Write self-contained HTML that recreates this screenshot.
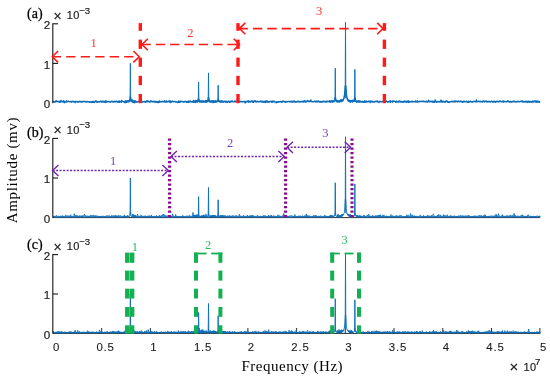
<!DOCTYPE html>
<html><head><meta charset="utf-8"><title>Spectrum</title>
<style>
html,body{margin:0;padding:0;background:#fff;}
svg{display:block}
.t{font-family:"Liberation Sans",Arial,sans-serif;font-size:11px;fill:#1c1c1c;stroke:#1c1c1c;stroke-width:0.18px}
.s{font-family:"Liberation Serif","Times New Roman",serif;fill:#000}
.k{stroke:#000;stroke-width:0.25px}
</style></head><body>
<svg width="550" height="381" viewBox="0 0 550 381">
<rect width="550" height="381" fill="#fff"/>
<polyline points="53.00,102.09 53.44,101.52 53.89,102.13 54.33,101.68 54.77,102.09 55.21,102.11 55.66,101.11 56.10,101.30 56.54,100.74 56.99,101.76 57.43,101.62 57.87,101.60 58.31,101.56 58.76,101.41 59.20,102.29 59.64,101.40 60.09,102.18 60.53,101.65 60.97,100.48 61.42,101.67 61.86,101.76 62.30,101.42 62.74,101.62 63.19,102.01 63.63,100.65 64.07,101.83 64.52,102.63 64.96,101.47 65.40,102.08 65.84,102.10 66.29,102.11 66.73,100.85 67.17,101.65 67.62,101.49 68.06,101.45 68.50,101.24 68.94,101.67 69.39,101.84 69.83,101.87 70.27,101.54 70.72,101.55 71.16,101.94 71.60,102.20 72.05,101.22 72.49,101.41 72.93,101.67 73.37,101.80 73.82,101.39 74.26,101.88 74.70,101.79 75.15,102.52 75.59,101.39 76.03,101.50 76.47,101.82 76.92,101.54 77.36,101.90 77.80,101.43 78.25,101.74 78.69,101.95 79.13,101.88 79.57,101.40 80.02,101.71 80.46,101.44 80.90,102.08 81.35,101.68 81.79,101.79 82.23,101.36 82.67,102.05 83.12,101.63 83.56,101.59 84.00,101.45 84.45,101.57 84.89,101.42 85.33,101.40 85.78,101.95 86.22,102.11 86.66,101.59 87.10,101.64 87.55,101.58 87.99,101.67 88.43,101.69 88.88,101.96 89.32,102.21 89.76,101.82 90.20,101.83 90.65,102.26 91.09,101.96 91.53,102.36 91.98,101.47 92.42,102.34 92.86,102.00 93.30,101.34 93.75,102.38 94.19,102.52 94.63,102.10 95.08,101.28 95.52,101.57 95.96,100.83 96.41,101.91 96.85,101.62 97.29,102.26 97.73,101.70 98.18,101.76 98.62,101.87 99.06,101.86 99.51,101.98 99.95,101.77 100.39,101.86 100.83,101.02 101.28,102.03 101.72,101.73 102.16,101.48 102.61,101.33 103.05,102.11 103.49,101.46 103.93,101.31 104.38,102.08 104.82,101.40 105.26,101.12 105.71,102.51 106.15,100.94 106.59,101.51 107.03,101.93 107.48,101.57 107.92,101.73 108.36,101.63 108.81,101.58 109.25,101.57 109.69,102.01 110.14,102.03 110.58,101.75 111.02,101.87 111.46,101.25 111.91,101.62 112.35,101.70 112.79,101.33 113.24,102.10 113.68,102.05 114.12,101.52 114.56,101.73 115.01,101.38 115.45,101.36 115.89,101.98 116.34,101.33 116.78,101.28 117.22,101.79 117.66,101.76 118.11,102.30 118.55,101.47 118.99,100.90 119.44,102.26 119.88,101.79 120.32,101.44 120.77,101.91 121.21,102.22 121.65,100.55 122.09,101.05 122.54,101.39 122.98,101.59 123.42,101.83 123.87,101.75 124.31,102.31 124.52,102.50 124.67,101.59 124.75,101.92 124.81,101.68 124.96,102.31 125.11,101.73 125.19,102.13 125.25,101.16 125.40,101.07 125.54,102.38 125.64,101.49 125.69,101.20 125.84,100.69 125.98,101.45 126.08,101.47 126.13,102.05 126.27,101.20 126.42,101.43 126.52,101.35 126.57,101.73 126.71,102.20 126.86,101.33 126.97,101.69 127.01,101.38 127.15,100.85 127.30,101.13 127.41,101.69 127.44,101.86 127.59,101.10 127.74,101.20 127.85,101.54 127.88,101.30 128.03,101.79 128.17,101.25 128.29,101.35 128.32,101.00 128.47,101.17 128.61,101.82 128.74,101.43 128.76,102.04 128.91,101.66 129.05,100.53 129.18,101.05 129.20,101.30 129.34,101.06 129.49,100.71 129.62,100.58 129.64,100.78 129.78,99.95 129.93,99.53 130.07,98.50 130.08,98.65 130.22,98.03 130.37,96.91 130.51,97.38 130.51,97.43 130.66,98.79 130.81,99.64 130.95,99.61 130.95,101.11 131.10,99.79 131.24,100.54 131.39,101.24 131.39,100.70 131.54,101.22 131.68,101.30 131.83,101.17 131.84,100.99 131.98,101.32 132.12,99.81 132.27,101.28 132.28,101.99 132.41,101.88 132.56,101.24 132.71,101.43 132.72,101.79 132.85,101.42 133.00,102.20 133.14,101.16 133.17,101.94 133.29,102.04 133.44,101.26 133.58,101.64 133.61,101.58 133.73,101.77 133.88,101.78 134.02,101.87 134.05,101.15 134.17,102.77 134.31,100.64 134.46,100.56 134.50,102.61 134.61,101.63 134.75,101.25 134.90,101.73 134.94,101.50 135.04,102.02 135.19,101.75 135.34,101.12 135.38,101.64 135.48,102.12 135.63,101.97 135.78,101.41 135.82,101.29 135.92,101.72 136.07,101.71 136.27,102.11 136.71,101.72 137.15,101.89 137.60,102.02 138.04,101.66 138.48,101.58 138.92,101.31 139.37,101.15 139.81,101.65 140.25,101.76 140.70,100.95 141.14,101.30 141.58,101.38 142.02,101.69 142.47,101.72 142.91,102.04 143.35,101.79 143.80,101.76 144.24,101.62 144.68,101.54 145.13,102.15 145.57,101.46 146.01,101.97 146.45,101.83 146.90,100.77 147.34,101.66 147.78,101.08 148.23,101.16 148.67,101.83 149.11,101.43 149.55,102.07 150.00,101.93 150.44,101.64 150.88,100.66 151.33,101.53 151.77,101.62 152.21,101.77 152.65,101.77 153.10,101.19 153.54,101.37 153.98,101.94 154.43,101.36 154.87,101.67 155.31,102.33 155.75,101.47 156.20,102.12 156.64,101.90 157.08,101.53 157.53,102.26 157.97,102.53 158.41,101.67 158.86,102.45 159.30,101.06 159.74,101.24 160.18,102.03 160.63,101.81 161.07,101.63 161.51,101.79 161.96,101.39 162.40,101.50 162.84,101.69 163.28,101.46 163.73,101.77 164.17,101.52 164.61,100.91 165.06,102.07 165.50,101.55 165.94,101.94 166.38,100.96 166.83,101.95 167.27,101.88 167.71,101.40 168.16,101.50 168.60,101.22 169.04,101.42 169.49,102.04 169.93,100.62 170.37,101.85 170.81,102.50 171.26,102.03 171.70,101.24 172.14,101.48 172.59,101.14 173.03,101.37 173.47,101.78 173.91,101.80 174.36,101.64 174.80,101.40 175.24,101.62 175.69,102.01 176.13,101.85 176.57,102.02 177.01,101.86 177.46,102.42 177.90,102.00 178.34,102.26 178.79,100.97 179.23,102.23 179.67,101.81 180.11,102.27 180.56,101.30 181.00,101.18 181.44,101.53 181.89,101.44 182.33,101.53 182.77,101.67 183.22,102.02 183.66,102.14 184.10,102.11 184.54,101.53 184.99,101.47 185.43,101.51 185.87,101.75 186.32,102.12 186.76,101.69 187.20,101.43 187.64,102.28 188.09,101.84 188.53,101.05 188.97,102.16 189.42,101.25 189.86,101.76 190.30,101.04 190.74,101.85 191.19,101.93 191.63,101.67 192.07,101.64 192.52,101.59 192.73,101.48 192.88,102.18 192.96,101.46 193.02,101.38 193.17,102.14 193.31,101.69 193.40,101.83 193.46,100.38 193.61,101.26 193.75,102.18 193.85,101.67 193.90,101.79 194.04,101.18 194.19,101.76 194.29,101.54 194.34,101.99 194.48,101.51 194.63,101.84 194.73,101.25 194.78,101.06 194.92,101.35 195.07,101.48 195.17,101.96 195.21,101.20 195.36,102.52 195.51,101.39 195.62,101.26 195.65,101.58 195.80,100.39 195.94,101.75 196.06,101.46 196.09,101.11 196.24,101.87 196.38,101.65 196.50,101.70 196.53,101.80 196.68,101.96 196.82,100.78 196.95,101.84 196.97,100.93 197.11,101.04 197.26,101.14 197.39,101.96 197.41,101.00 197.55,101.30 197.70,101.03 197.83,100.38 197.84,100.74 197.99,101.24 198.14,101.02 198.27,99.61 198.28,99.71 198.43,98.81 198.58,99.20 198.72,99.10 198.72,99.40 198.87,99.76 199.01,100.32 199.16,100.65 199.16,101.31 199.31,100.72 199.45,101.49 199.60,100.97 199.60,100.89 199.74,101.54 199.89,102.10 200.04,101.64 200.05,101.65 200.18,101.99 200.33,101.78 200.48,101.80 200.49,101.24 200.62,101.05 200.77,100.98 200.91,101.83 200.93,101.68 201.06,101.38 201.21,102.03 201.35,101.77 201.37,100.86 201.50,101.49 201.64,101.80 201.79,101.38 201.82,101.56 201.94,101.77 202.08,101.86 202.23,101.96 202.26,100.97 202.38,101.80 202.52,101.57 202.67,101.41 202.67,101.23 202.70,101.86 202.81,101.17 202.81,101.06 202.96,100.90 202.96,102.04 203.11,101.35 203.11,101.61 203.15,102.03 203.25,101.39 203.25,101.90 203.40,101.25 203.40,101.86 203.54,101.36 203.54,101.79 203.59,101.15 203.69,101.95 203.69,101.77 203.84,101.16 203.84,102.01 203.98,101.47 203.98,101.76 204.03,102.02 204.13,101.82 204.13,101.45 204.28,101.09 204.28,101.72 204.42,101.52 204.47,101.84 204.57,101.47 204.71,101.70 204.86,102.07 204.92,101.80 205.01,101.66 205.15,101.48 205.30,101.86 205.36,101.39 205.44,100.84 205.59,101.43 205.74,100.68 205.80,101.97 205.88,101.79 206.03,100.78 206.18,101.37 206.25,101.82 206.32,100.68 206.47,102.32 206.61,101.23 206.69,100.80 206.76,101.52 206.91,101.75 207.05,101.45 207.13,101.57 207.20,101.49 207.34,101.24 207.49,101.25 207.58,101.34 207.64,101.37 207.78,101.39 207.93,100.18 208.02,100.58 208.08,99.58 208.22,99.57 208.37,97.62 208.46,97.55 208.51,98.14 208.66,98.50 208.81,99.34 208.90,99.20 208.95,100.04 209.10,100.80 209.25,100.55 209.35,100.30 209.39,101.63 209.54,101.05 209.68,101.51 209.79,101.34 209.83,101.69 209.98,101.00 210.12,102.13 210.23,101.49 210.27,101.26 210.41,101.56 210.56,101.72 210.68,101.69 210.71,101.39 210.85,102.16 211.00,101.47 211.12,101.10 211.15,102.03 211.29,101.90 211.44,100.71 211.56,101.40 211.58,101.85 211.73,101.49 211.88,101.21 212.00,101.85 212.02,101.58 212.17,101.40 212.31,101.80 212.31,101.15 212.45,101.74 212.46,101.69 212.46,101.61 212.61,101.40 212.61,101.58 212.75,101.73 212.75,101.41 212.89,100.69 212.90,101.54 212.90,102.65 213.05,101.62 213.05,101.71 213.19,101.39 213.19,101.34 213.33,101.53 213.34,101.57 213.34,101.64 213.48,101.87 213.48,101.59 213.63,101.22 213.63,102.14 213.78,100.76 213.78,102.04 213.78,101.32 213.92,101.86 213.92,102.28 214.07,101.96 214.07,101.53 214.21,101.57 214.21,101.86 214.22,101.82 214.36,101.68 214.51,101.91 214.65,101.55 214.66,101.92 214.80,102.25 214.95,101.12 215.09,101.36 215.10,101.38 215.24,101.58 215.38,101.10 215.53,101.86 215.55,101.12 215.68,100.90 215.82,101.20 215.97,102.34 215.99,100.94 216.11,101.20 216.26,101.67 216.41,101.56 216.43,101.34 216.55,101.47 216.70,101.64 216.85,101.13 216.88,101.54 216.99,101.70 217.14,101.23 217.28,101.10 217.32,101.56 217.43,100.97 217.58,101.07 217.72,100.38 217.76,100.10 217.87,100.20 218.01,99.47 218.16,99.55 218.21,99.42 218.31,99.24 218.45,100.10 218.60,100.89 218.65,101.13 218.75,100.83 218.89,101.37 219.04,100.93 219.09,101.66 219.18,101.14 219.33,101.42 219.48,101.32 219.53,101.21 219.62,101.12 219.77,101.55 219.91,101.62 219.98,101.22 220.06,101.42 220.21,101.92 220.35,101.79 220.42,101.26 220.50,101.54 220.65,101.64 220.79,101.07 220.86,102.27 220.94,102.19 221.08,101.04 221.23,101.83 221.31,101.93 221.38,101.42 221.52,101.37 221.67,101.86 221.75,101.35 221.81,101.31 221.96,101.43 222.11,101.66 222.19,100.88 222.25,101.87 222.40,101.60 222.55,101.22 222.63,101.96 222.69,101.96 222.84,101.80 222.98,101.35 223.08,101.75 223.13,102.17 223.28,101.54 223.42,101.83 223.52,101.95 223.57,101.77 223.71,101.90 223.86,101.70 223.96,101.45 224.41,101.26 224.85,101.49 225.29,101.57 225.73,102.23 226.18,101.46 226.62,101.17 227.06,102.18 227.51,102.28 227.95,101.68 228.39,101.65 228.83,101.08 229.28,101.61 229.72,102.33 230.16,102.14 230.61,101.38 231.05,101.59 231.49,101.82 231.94,100.69 232.38,101.42 232.82,101.46 233.26,101.69 233.71,101.89 234.15,101.91 234.59,101.11 235.04,101.48 235.48,101.78 235.92,101.09 236.36,101.69 236.81,101.58 237.25,101.87 237.69,101.43 238.14,101.73 238.58,101.30 239.02,101.30 239.46,101.69 239.91,101.59 240.35,101.84 240.79,101.40 241.24,101.76 241.68,101.68 242.12,101.59 242.57,101.85 243.01,101.85 243.45,101.84 243.89,101.44 244.34,101.41 244.78,101.84 245.22,102.87 245.67,101.52 246.11,102.02 246.55,101.61 246.99,101.23 247.44,101.49 247.88,101.79 248.32,100.82 248.77,102.28 249.21,101.42 249.65,101.44 250.09,101.62 250.54,102.03 250.98,101.19 251.42,101.41 251.87,100.80 252.31,101.42 252.75,102.24 253.19,101.43 253.64,102.28 254.08,100.95 254.52,101.13 254.97,100.74 255.41,100.87 255.85,101.91 256.30,101.43 256.74,101.99 257.18,101.27 257.62,101.39 258.07,101.83 258.51,101.66 258.95,101.90 259.40,101.75 259.84,101.85 260.28,101.08 260.72,101.35 261.17,101.84 261.61,101.25 262.05,101.42 262.50,101.87 262.94,101.27 263.38,101.68 263.82,102.12 264.27,101.35 264.71,102.03 265.15,102.43 265.60,102.32 266.04,100.81 266.48,102.02 266.93,101.30 267.37,101.12 267.81,102.11 268.25,101.81 268.70,101.72 269.14,102.16 269.58,101.50 270.03,101.59 270.47,101.17 270.91,101.16 271.35,101.55 271.80,102.33 272.24,102.11 272.68,101.07 273.13,101.68 273.57,101.29 274.01,101.67 274.45,101.24 274.90,101.68 275.34,102.15 275.78,102.33 276.23,102.78 276.67,101.73 277.11,101.72 277.55,101.91 278.00,102.35 278.44,101.81 278.88,101.74 279.33,101.76 279.77,101.92 280.21,101.64 280.66,101.59 281.10,102.10 281.54,101.45 281.98,101.37 282.43,102.05 282.87,101.06 283.31,101.50 283.76,101.33 284.20,101.54 284.64,101.73 285.08,102.15 285.53,102.18 285.97,101.30 286.41,101.98 286.86,101.85 287.30,101.86 287.74,101.57 288.18,101.48 288.63,101.53 289.07,101.52 289.51,101.80 289.96,101.47 290.40,101.68 290.84,101.98 291.29,101.34 291.73,101.25 292.17,101.98 292.61,101.44 293.06,101.97 293.50,101.19 293.94,101.81 294.39,100.94 294.83,101.82 295.27,102.00 295.71,101.67 296.16,102.13 296.60,101.90 297.04,101.51 297.49,101.79 297.93,101.12 298.37,101.81 298.81,101.55 299.26,101.93 299.70,101.49 300.14,102.02 300.59,101.89 301.03,101.36 301.47,101.47 301.91,101.81 302.36,101.93 302.80,101.15 303.24,101.57 303.69,101.95 304.13,101.58 304.57,100.69 305.02,101.83 305.46,101.40 305.90,102.10 306.34,101.28 306.79,101.48 307.23,101.43 307.67,100.59 308.12,101.42 308.56,101.36 309.00,101.39 309.44,101.20 309.89,101.66 310.33,100.99 310.77,99.99 311.22,101.37 311.66,101.58 312.10,101.69 312.54,101.81 312.99,101.68 313.43,101.82 313.87,101.65 314.32,101.28 314.76,101.41 315.20,101.63 315.65,101.27 316.09,102.07 316.53,101.50 316.97,101.09 317.42,101.21 317.86,102.00 318.30,101.69 318.75,101.03 319.19,101.72 319.63,101.69 320.07,102.19 320.52,101.46 320.96,101.60 321.40,102.06 321.85,102.17 322.29,101.38 322.73,101.50 323.17,101.82 323.62,101.26 324.06,101.19 324.50,101.77 324.95,101.86 325.39,101.43 325.83,101.87 326.27,101.34 326.72,101.97 327.16,101.45 327.60,101.20 328.05,101.44 328.49,101.57 328.93,101.44 329.38,101.85 329.44,101.57 329.58,101.23 329.73,100.63 329.82,101.26 329.88,101.67 330.02,101.74 330.17,101.12 330.26,102.01 330.31,101.57 330.46,101.35 330.61,101.42 330.70,102.20 330.75,101.25 330.90,101.63 331.05,101.70 331.15,101.71 331.19,101.29 331.34,101.63 331.48,101.65 331.59,101.87 331.63,101.87 331.78,100.72 331.92,101.42 332.03,100.95 332.07,101.51 332.21,100.73 332.36,101.60 332.48,102.06 332.51,101.29 332.65,101.66 332.80,101.41 332.92,101.31 332.95,101.39 333.09,101.62 333.24,101.48 333.36,100.97 333.38,101.54 333.53,101.76 333.68,101.12 333.80,101.02 333.82,101.58 333.97,101.62 334.11,100.78 334.25,101.18 334.26,101.36 334.41,100.88 334.55,100.85 334.69,100.42 334.70,100.10 334.85,100.06 334.99,98.92 335.13,98.21 335.14,97.52 335.28,97.62 335.43,97.39 335.58,98.92 335.58,99.33 335.72,99.53 335.87,100.56 336.01,100.94 336.02,100.92 336.16,101.23 336.31,100.88 336.45,100.86 336.46,100.92 336.60,101.32 336.75,101.67 336.89,100.76 336.90,100.56 337.04,100.79 337.18,100.97 337.33,101.82 337.35,101.45 337.48,102.02 337.62,101.74 337.77,101.94 337.79,100.71 337.91,101.01 338.06,101.82 338.21,100.93 338.23,101.32 338.35,101.38 338.50,101.18 338.65,101.43 338.68,101.08 338.79,100.98 338.94,100.76 339.08,101.90 339.12,101.50 339.23,100.80 339.38,101.62 339.52,101.00 339.56,101.44 339.67,101.63 339.67,101.20 339.81,101.75 339.81,101.30 339.96,101.11 339.96,101.32 340.01,100.57 340.11,100.92 340.11,100.47 340.25,100.50 340.25,100.75 340.40,100.11 340.40,100.68 340.45,101.26 340.55,101.33 340.55,101.21 340.69,101.49 340.69,101.22 340.84,101.24 340.84,101.49 340.89,101.58 340.98,101.07 340.98,100.91 341.13,100.85 341.28,100.14 341.33,101.39 341.42,99.70 341.57,101.60 341.71,101.09 341.78,101.33 341.86,100.48 342.01,100.56 342.15,100.16 342.22,100.16 342.30,100.37 342.45,101.02 342.59,100.30 342.66,101.03 342.74,99.65 342.88,100.29 343.03,100.06 343.11,99.88 343.18,100.21 343.32,99.84 343.47,99.62 343.55,99.13 343.61,98.90 343.76,98.47 343.91,98.38 343.99,97.73 344.05,97.98 344.20,97.09 344.35,96.21 344.43,95.36 344.49,95.53 344.64,94.58 344.78,92.53 344.88,91.76 344.93,90.51 345.08,89.04 345.22,86.92 345.32,86.35 345.37,85.91 345.51,85.80 345.66,86.08 345.76,86.35 345.81,87.25 345.95,89.07 346.10,90.13 346.21,91.80 346.25,91.90 346.39,94.65 346.54,95.06 346.65,96.10 346.68,96.17 346.83,96.87 346.98,97.84 347.09,99.01 347.12,98.04 347.27,98.50 347.41,98.93 347.53,99.01 347.56,99.29 347.71,99.45 347.85,100.39 347.98,100.24 348.00,99.80 348.15,100.06 348.29,100.26 348.42,101.23 348.44,100.66 348.58,100.13 348.73,100.24 348.86,100.77 348.88,100.93 349.02,100.73 349.02,100.18 349.17,100.75 349.17,100.73 349.31,100.71 349.32,100.65 349.32,100.87 349.46,101.18 349.46,100.79 349.61,100.73 349.61,100.92 349.75,101.52 349.75,100.95 349.75,100.68 349.90,101.38 349.90,101.38 350.05,101.02 350.05,100.46 350.19,101.41 350.19,102.16 350.19,101.19 350.34,101.20 350.34,101.42 350.48,100.91 350.48,101.28 350.63,101.47 350.63,100.83 350.63,100.76 350.78,101.25 350.78,101.67 350.92,101.47 350.92,101.65 351.07,101.25 351.07,101.33 351.08,100.88 351.22,101.21 351.22,100.60 351.36,100.94 351.51,101.54 351.52,100.91 351.65,101.44 351.80,101.08 351.95,101.67 351.96,101.17 352.09,100.66 352.24,100.85 352.38,101.59 352.41,101.09 352.53,101.92 352.68,101.40 352.82,100.24 352.85,101.65 352.97,100.77 353.12,100.80 353.26,101.46 353.29,100.46 353.41,100.57 353.55,100.94 353.70,100.58 353.74,101.19 353.85,101.11 353.99,100.42 354.14,101.06 354.18,101.31 354.28,100.63 354.43,99.72 354.58,98.71 354.62,98.58 354.72,97.47 354.87,97.80 355.02,98.02 355.06,98.62 355.16,99.38 355.31,99.05 355.45,100.64 355.51,101.11 355.60,101.27 355.75,100.96 355.89,100.61 355.95,100.80 356.04,101.48 356.18,101.23 356.33,101.05 356.39,101.37 356.48,101.22 356.62,102.23 356.77,101.55 356.84,101.63 356.92,101.28 357.06,101.17 357.21,101.20 357.28,101.95 357.35,101.65 357.50,101.49 357.65,101.05 357.72,101.28 357.79,100.94 357.94,101.79 358.08,101.61 358.16,101.78 358.23,100.98 358.38,101.90 358.52,101.44 358.61,100.83 358.67,101.76 358.82,101.62 358.96,101.01 359.05,101.97 359.11,101.35 359.25,101.88 359.40,102.00 359.49,101.61 359.55,101.75 359.69,101.43 359.84,101.56 359.94,100.88 359.98,101.03 360.13,101.84 360.28,101.74 360.38,101.67 360.42,101.35 360.57,101.89 360.82,101.40 361.26,101.45 361.71,102.14 362.15,101.96 362.59,101.45 363.04,101.86 363.48,101.45 363.92,102.34 364.37,101.49 364.81,100.83 365.25,102.20 365.69,101.90 366.14,102.14 366.58,101.13 367.02,101.79 367.47,101.77 367.91,101.84 368.35,101.31 368.79,101.01 369.24,101.60 369.68,101.91 370.12,102.54 370.57,100.96 371.01,101.20 371.45,101.46 371.89,102.00 372.34,101.34 372.78,101.65 373.22,102.11 373.67,102.05 374.11,101.81 374.55,101.58 374.99,101.95 375.44,101.71 375.88,101.18 376.32,101.39 376.77,101.21 377.21,101.80 377.65,101.02 378.10,101.95 378.54,101.89 378.98,102.44 379.42,102.02 379.87,101.37 380.31,101.51 380.75,101.48 381.20,101.95 381.64,101.72 382.08,101.66 382.52,101.46 382.97,101.40 383.41,101.64 383.85,101.42 384.30,101.49 384.74,102.21 385.18,101.67 385.62,101.73 386.07,101.51 386.51,101.11 386.95,101.47 387.40,101.82 387.84,102.26 388.28,101.41 388.73,101.39 389.17,101.67 389.61,101.11 390.05,100.90 390.50,102.25 390.94,101.37 391.38,101.49 391.83,101.35 392.27,101.11 392.71,102.13 393.15,101.57 393.60,101.09 394.04,101.02 394.48,101.39 394.93,101.56 395.37,101.59 395.81,102.22 396.25,102.07 396.70,101.10 397.14,101.58 397.58,101.92 398.03,102.13 398.47,101.76 398.91,101.21 399.35,101.65 399.80,100.86 400.24,101.89 400.68,101.80 401.13,102.07 401.57,101.57 402.01,101.64 402.46,102.15 402.90,102.02 403.34,101.65 403.78,102.08 404.23,101.56 404.67,100.98 405.11,101.81 405.56,101.51 406.00,102.13 406.44,101.19 406.88,102.15 407.33,101.66 407.77,102.04 408.21,100.85 408.66,102.40 409.10,101.41 409.54,101.53 409.98,101.96 410.43,101.68 410.87,101.51 411.31,101.42 411.76,102.04 412.20,101.33 412.64,101.30 413.09,101.79 413.53,101.84 413.97,101.76 414.41,101.77 414.86,101.87 415.30,101.89 415.74,100.90 416.19,101.79 416.63,101.86 417.07,102.10 417.51,100.88 417.96,101.83 418.40,101.86 418.84,101.64 419.29,101.77 419.73,101.24 420.17,101.47 420.61,101.35 421.06,101.73 421.50,101.45 421.94,101.19 422.39,101.21 422.83,101.53 423.27,101.66 423.71,101.09 424.16,101.39 424.60,101.70 425.04,101.71 425.49,101.77 425.93,101.82 426.37,100.99 426.82,101.89 427.26,102.09 427.70,101.78 428.14,101.65 428.59,100.21 429.03,101.67 429.47,101.75 429.92,101.47 430.36,101.47 430.80,101.27 431.24,101.89 431.69,101.76 432.13,101.02 432.57,101.32 433.02,102.32 433.46,101.51 433.90,101.61 434.34,102.22 434.79,101.52 435.23,100.09 435.67,101.76 436.12,101.55 436.56,102.29 437.00,102.13 437.45,101.71 437.89,101.43 438.33,101.79 438.77,101.82 439.22,101.80 439.66,101.51 440.10,101.96 440.55,101.39 440.99,100.13 441.43,101.35 441.87,102.00 442.32,101.37 442.76,102.07 443.20,101.28 443.65,101.57 444.09,101.71 444.53,101.65 444.97,102.28 445.42,101.51 445.86,101.32 446.30,100.90 446.75,101.01 447.19,101.97 447.63,101.28 448.07,102.32 448.52,102.00 448.96,102.16 449.40,102.40 449.85,101.83 450.29,101.73 450.73,101.85 451.18,101.86 451.62,101.51 452.06,101.29 452.50,101.68 452.95,101.31 453.39,101.51 453.83,101.85 454.28,101.12 454.72,101.65 455.16,101.15 455.60,101.68 456.05,101.61 456.49,101.25 456.93,101.31 457.38,101.80 457.82,101.88 458.26,101.11 458.70,101.29 459.15,101.14 459.59,101.81 460.03,101.79 460.48,101.42 460.92,101.13 461.36,101.53 461.81,101.68 462.25,102.30 462.69,101.48 463.13,101.44 463.58,101.92 464.02,101.14 464.46,101.61 464.91,101.84 465.35,101.69 465.79,101.75 466.23,101.50 466.68,101.31 467.12,101.95 467.56,102.08 468.01,102.52 468.45,101.17 468.89,101.95 469.33,101.99 469.78,101.91 470.22,101.32 470.66,101.29 471.11,101.57 471.55,101.94 471.99,101.53 472.43,101.99 472.88,101.98 473.32,101.41 473.76,101.31 474.21,101.55 474.65,101.53 475.09,101.49 475.54,101.62 475.98,102.04 476.42,100.06 476.86,101.81 477.31,101.52 477.75,101.51 478.19,101.16 478.64,101.44 479.08,101.74 479.52,101.72 479.96,101.27 480.41,101.17 480.85,101.88 481.29,101.98 481.74,101.62 482.18,101.55 482.62,101.90 483.06,100.90 483.51,100.93 483.95,101.29 484.39,101.90 484.84,101.14 485.28,101.24 485.72,101.55 486.17,100.97 486.61,101.87 487.05,101.74 487.49,101.46 487.94,101.85 488.38,101.33 488.82,101.83 489.27,101.61 489.71,101.46 490.15,102.02 490.59,101.80 491.04,101.49 491.48,101.27 491.92,101.25 492.37,101.59 492.81,102.14 493.25,102.08 493.69,101.37 494.14,102.00 494.58,101.27 495.02,101.29 495.47,102.18 495.91,102.04 496.35,101.32 496.79,101.14 497.24,101.28 497.68,101.78 498.12,101.53 498.57,101.54 499.01,101.75 499.45,101.54 499.90,100.93 500.34,101.56 500.78,101.37 501.22,101.66 501.67,101.74 502.11,101.76 502.55,101.45 503.00,100.81 503.44,102.12 503.88,101.69 504.32,101.57 504.77,101.32 505.21,101.71 505.65,101.82 506.10,101.74 506.54,101.80 506.98,101.71 507.42,101.04 507.87,100.73 508.31,101.08 508.75,101.82 509.20,101.56 509.64,102.18 510.08,102.02 510.53,101.43 510.97,102.22 511.41,101.92 511.85,101.59 512.30,101.57 512.74,101.79 513.18,101.30 513.63,101.77 514.07,101.04 514.51,101.65 514.95,101.67 515.40,101.55 515.84,101.74 516.28,102.10 516.73,101.94 517.17,101.54 517.61,101.27 518.05,101.50 518.50,101.53 518.94,101.68 519.38,101.67 519.83,101.81 520.27,101.51 520.71,101.39 521.15,101.11 521.60,101.61 522.04,101.48 522.48,101.02 522.93,102.11 523.37,101.81 523.81,101.44 524.26,101.59 524.70,102.03 525.14,101.92 525.58,101.37 526.03,101.87 526.47,101.24 526.91,101.91 527.36,101.43 527.80,102.41 528.24,101.27 528.68,101.79 529.13,101.34 529.57,102.23 530.01,102.02 530.46,101.60 530.90,101.61 531.34,101.76 531.78,102.28 532.23,101.90 532.67,101.09 533.11,101.97 533.56,101.55 534.00,101.70 534.44,101.00 534.89,100.84 535.33,101.87 535.77,101.46 536.21,101.04 536.66,102.29 537.10,101.41 537.54,101.08 537.99,102.08 538.43,101.72 538.87,101.36 539.31,102.20 539.76,102.02 540.20,101.69" fill="none" stroke="#0d6fbc" stroke-width="1.5" stroke-linejoin="round"/>
<path d="M130.07 100.62L130.37 63.40L130.67 100.62M198.28 101.74L198.58 82.01L198.88 101.74M208.21 101.19L208.51 72.90L208.81 101.19M217.86 101.93L218.16 85.18L218.46 101.93M334.98 100.91L335.28 68.15L335.58 100.91M345.21 98.15L345.51 22.22L345.81 98.15M354.57 100.98L354.87 69.34L355.17 100.98" fill="none" stroke="#0d6fbc" stroke-width="0.95" stroke-linejoin="miter"/>
<path d="M53.0 217.6H540.2" stroke="#151515" stroke-width="0.9" fill="none"/>
<path d="M53.0 216.85H128.8M132.0 216.85H198.6M198.6 216.85H208.5M208.5 216.85H218.2M218.2 216.85H333.7M336.9 216.85H342.3M348.7 216.85H353.3M356.5 216.85H540.2" stroke="#0d6fbc" stroke-width="1.3" fill="none"/>
<polyline points="53.00,215.65 53.44,216.75 53.89,216.09 54.33,216.91 54.77,216.52 55.21,215.82 55.66,216.37 56.10,216.19 56.54,215.40 56.99,216.36 57.43,216.48 57.87,216.03 58.31,216.03 58.76,216.41 59.20,216.55 59.64,216.82 60.09,216.48 60.53,215.79 60.97,216.44 61.42,216.79 61.86,215.90 62.30,216.37 62.74,215.53 63.19,216.69 63.63,216.52 64.07,216.23 64.52,216.76 64.96,216.57 65.40,215.31 65.84,214.89 66.29,215.97 66.73,216.50 67.17,215.77 67.62,215.95 68.06,216.35 68.50,215.70 68.94,216.24 69.39,215.89 69.83,216.78 70.27,216.25 70.72,214.71 71.16,216.70 71.60,216.58 72.05,216.52 72.49,216.25 72.93,216.94 73.37,216.96 73.82,216.85 74.26,213.70 74.70,215.87 75.15,216.57 75.59,215.29 76.03,215.94 76.47,216.79 76.92,215.14 77.36,216.33 77.80,216.45 78.25,216.44 78.69,216.49 79.13,215.62 79.57,216.92 80.02,215.59 80.46,216.25 80.90,216.34 81.35,215.81 81.79,216.82 82.23,215.47 82.67,216.60 83.12,215.66 83.56,216.03 84.00,215.96 84.45,214.19 84.89,215.63 85.33,216.04 85.78,215.40 86.22,216.62 86.66,216.49 87.10,216.34 87.55,215.74 87.99,216.64 88.43,216.69 88.88,216.10 89.32,216.35 89.76,215.73 90.20,216.43 90.65,215.67 91.09,215.01 91.53,216.62 91.98,216.39 92.42,215.75 92.86,215.09 93.30,215.03 93.75,216.67 94.19,216.04 94.63,215.56 95.08,216.96 95.52,215.59 95.96,215.88 96.41,215.91 96.85,215.61 97.29,216.90 97.73,216.05 98.18,215.83 98.62,216.77 99.06,216.88 99.51,216.17 99.95,216.79 100.39,216.50 100.83,216.96 101.28,216.69 101.72,215.83 102.16,216.48 102.61,216.33 103.05,216.48 103.49,216.28 103.93,215.92 104.38,216.44 104.82,216.49 105.26,216.28 105.71,216.36 106.15,216.77 106.59,216.29 107.03,215.33 107.48,216.40 107.92,216.03 108.36,215.81 108.81,215.82 109.25,215.67 109.69,215.79 110.14,216.84 110.58,216.80 111.02,216.22 111.46,216.28 111.91,215.29 112.35,216.52 112.79,215.93 113.24,216.01 113.68,215.63 114.12,215.70 114.56,216.70 115.01,215.53 115.45,216.81 115.89,215.17 116.34,216.87 116.78,216.57 117.22,216.09 117.66,216.92 118.11,215.22 118.55,216.66 118.99,216.13 119.44,215.91 119.88,216.06 120.32,215.50 120.77,216.05 121.21,216.03 121.65,216.50 122.09,215.95 122.54,216.43 122.98,215.89 123.42,216.31 123.87,216.75 124.31,214.84 124.52,215.86 124.67,215.83 124.75,215.48 124.81,216.78 124.96,216.47 125.11,216.19 125.19,216.35 125.25,216.89 125.40,216.52 125.54,216.44 125.64,216.15 125.69,216.13 125.84,216.92 125.98,215.99 126.08,216.55 126.13,216.52 126.27,216.14 126.42,216.51 126.52,216.11 126.57,216.91 126.71,216.49 126.86,216.10 126.97,216.35 127.01,216.29 127.15,216.25 127.30,215.74 127.41,216.68 127.44,216.61 127.59,216.89 127.74,215.22 127.85,216.41 127.88,216.01 128.03,216.80 128.17,216.25 128.29,215.95 128.32,216.27 128.47,216.47 128.61,216.64 128.74,216.62 128.76,216.15 128.91,216.64 129.05,216.22 129.18,216.50 129.20,216.24 129.34,215.97 129.49,215.90 129.62,215.94 129.64,215.97 129.78,215.64 129.93,214.96 130.07,214.31 130.08,214.38 130.22,213.00 130.37,212.53 130.51,212.79 130.51,212.99 130.66,213.92 130.81,214.60 130.95,215.59 130.95,215.57 131.10,215.48 131.24,216.11 131.39,216.32 131.39,216.37 131.54,216.21 131.68,216.05 131.83,216.28 131.84,216.65 131.98,216.02 132.12,216.40 132.27,216.38 132.28,216.16 132.41,216.32 132.56,214.23 132.71,215.61 132.72,216.64 132.85,215.51 133.00,215.98 133.14,216.66 133.17,215.54 133.29,216.41 133.44,216.34 133.58,214.51 133.61,216.25 133.73,215.34 133.88,215.15 134.02,216.08 134.05,215.32 134.17,215.83 134.31,216.16 134.46,216.47 134.50,215.48 134.61,216.60 134.75,215.44 134.90,215.68 134.94,216.77 135.04,216.00 135.19,216.88 135.34,215.86 135.38,216.67 135.48,216.39 135.63,215.18 135.78,216.20 135.82,216.66 135.92,216.78 136.07,216.35 136.27,216.43 136.71,216.72 137.15,215.55 137.60,214.00 138.04,216.28 138.48,216.54 138.92,215.98 139.37,216.05 139.81,216.89 140.25,216.63 140.70,215.28 141.14,215.68 141.58,215.42 142.02,216.65 142.47,216.19 142.91,215.83 143.35,215.99 143.80,216.79 144.24,216.48 144.68,216.66 145.13,215.58 145.57,216.86 146.01,216.49 146.45,216.58 146.90,216.19 147.34,215.90 147.78,216.56 148.23,216.26 148.67,216.81 149.11,215.50 149.55,216.75 150.00,216.63 150.44,216.56 150.88,215.88 151.33,214.97 151.77,216.91 152.21,216.31 152.65,216.76 153.10,216.49 153.54,216.71 153.98,215.99 154.43,216.03 154.87,216.73 155.31,216.55 155.75,216.59 156.20,216.52 156.64,215.48 157.08,216.89 157.53,216.71 157.97,216.02 158.41,216.58 158.86,216.88 159.30,215.62 159.74,215.01 160.18,216.75 160.63,216.66 161.07,216.85 161.51,215.51 161.96,216.37 162.40,215.90 162.84,214.54 163.28,215.93 163.73,214.13 164.17,215.27 164.61,216.34 165.06,215.18 165.50,216.88 165.94,216.41 166.38,215.71 166.83,216.40 167.27,215.87 167.71,216.09 168.16,215.37 168.60,215.92 169.04,216.39 169.49,215.57 169.93,216.53 170.37,215.56 170.81,216.60 171.26,216.13 171.70,216.74 172.14,216.53 172.59,213.91 173.03,215.05 173.47,216.66 173.91,216.19 174.36,216.93 174.80,216.65 175.24,216.45 175.69,214.42 176.13,216.90 176.57,216.53 177.01,216.88 177.46,216.46 177.90,216.43 178.34,216.64 178.79,216.65 179.23,216.76 179.67,216.47 180.11,216.90 180.56,216.44 181.00,216.71 181.44,216.72 181.89,216.75 182.33,216.81 182.77,215.41 183.22,216.48 183.66,216.14 184.10,216.80 184.54,216.76 184.99,216.64 185.43,216.93 185.87,216.75 186.32,215.78 186.76,216.24 187.20,216.01 187.64,216.12 188.09,216.09 188.53,216.26 188.97,215.69 189.42,215.51 189.86,216.72 190.30,216.44 190.74,215.80 191.19,216.25 191.63,216.31 192.07,216.13 192.52,216.44 192.73,215.47 192.88,214.77 192.96,212.42 193.02,215.76 193.17,215.43 193.31,216.44 193.40,216.03 193.46,216.57 193.61,214.66 193.75,215.78 193.85,216.19 193.90,216.11 194.04,216.30 194.19,215.12 194.29,216.31 194.34,215.25 194.48,216.68 194.63,216.09 194.73,216.54 194.78,216.80 194.92,216.72 195.07,215.79 195.17,216.87 195.21,214.87 195.36,215.42 195.51,216.49 195.62,216.13 195.65,216.12 195.80,215.53 195.94,216.29 196.06,215.64 196.09,215.76 196.24,216.30 196.38,216.67 196.50,215.28 196.53,214.82 196.68,216.37 196.82,216.86 196.95,216.14 196.97,216.71 197.11,214.47 197.26,216.60 197.39,216.29 197.41,216.59 197.55,216.20 197.70,216.26 197.83,216.00 197.84,216.00 197.99,216.17 198.14,215.71 198.27,215.48 198.28,215.59 198.43,214.91 198.58,214.56 198.72,214.57 198.72,214.82 198.87,215.56 199.01,215.85 199.16,216.13 199.16,215.76 199.31,216.40 199.45,216.37 199.60,216.64 199.60,216.22 199.74,216.38 199.89,216.48 200.04,216.28 200.05,216.75 200.18,216.17 200.33,216.47 200.48,216.57 200.49,216.23 200.62,216.81 200.77,216.14 200.91,216.54 200.93,216.53 201.06,216.43 201.21,215.49 201.35,215.72 201.37,216.84 201.50,216.60 201.64,216.59 201.79,215.87 201.82,215.85 201.94,216.87 202.08,216.15 202.23,215.63 202.26,216.29 202.38,216.47 202.52,216.03 202.67,215.98 202.67,216.11 202.70,216.33 202.81,215.76 202.81,216.45 202.96,216.89 202.96,216.57 203.11,216.53 203.11,216.77 203.15,216.57 203.25,215.77 203.25,216.07 203.40,216.38 203.40,216.60 203.54,214.84 203.54,215.90 203.59,216.46 203.69,216.18 203.69,216.44 203.84,216.52 203.84,216.29 203.98,215.95 203.98,215.90 204.03,216.45 204.13,215.97 204.13,216.91 204.28,216.89 204.28,216.28 204.42,215.27 204.47,216.11 204.57,216.39 204.71,215.86 204.86,215.81 204.92,215.86 205.01,216.79 205.15,216.72 205.30,216.52 205.36,216.89 205.44,215.79 205.59,216.15 205.74,215.76 205.80,215.70 205.88,213.91 206.03,214.45 206.18,215.89 206.25,216.41 206.32,216.33 206.47,215.63 206.61,216.60 206.69,216.50 206.76,216.42 206.91,216.60 207.05,216.32 207.13,216.68 207.20,216.58 207.34,216.32 207.49,215.94 207.58,216.04 207.64,215.93 207.78,215.87 207.93,215.57 208.02,215.78 208.08,215.55 208.22,214.54 208.37,214.26 208.46,213.53 208.51,213.58 208.66,214.27 208.81,214.58 208.90,214.81 208.95,215.63 209.10,215.54 209.25,216.16 209.35,216.01 209.39,216.07 209.54,215.88 209.68,216.29 209.79,216.12 209.83,216.34 209.98,216.68 210.12,216.32 210.23,216.78 210.27,216.53 210.41,216.31 210.56,216.24 210.68,215.87 210.71,215.39 210.85,215.97 211.00,216.85 211.12,215.73 211.15,216.16 211.29,216.50 211.44,215.99 211.56,216.52 211.58,216.29 211.73,215.55 211.88,216.54 212.00,216.64 212.02,216.30 212.17,216.09 212.31,216.83 212.31,216.75 212.45,216.65 212.46,216.70 212.46,216.47 212.61,215.73 212.61,216.87 212.75,216.06 212.75,215.34 212.89,216.44 212.90,215.51 212.90,216.41 213.05,216.73 213.05,216.46 213.19,216.80 213.19,216.27 213.33,216.87 213.34,216.69 213.34,215.84 213.48,216.91 213.48,215.34 213.63,216.85 213.63,216.23 213.78,216.83 213.78,216.37 213.78,216.65 213.92,216.27 213.92,216.18 214.07,215.12 214.07,216.90 214.21,216.54 214.21,216.62 214.22,216.45 214.36,215.83 214.51,216.39 214.65,215.74 214.66,216.42 214.80,215.60 214.95,215.90 215.09,215.53 215.10,216.85 215.24,216.11 215.38,215.61 215.53,215.75 215.55,216.75 215.68,216.40 215.82,216.18 215.97,215.95 215.99,216.43 216.11,215.91 216.26,216.61 216.41,216.64 216.43,216.69 216.55,216.44 216.70,216.62 216.85,216.60 216.88,216.54 216.99,216.68 217.14,216.32 217.28,216.13 217.32,216.23 217.43,216.44 217.58,216.27 217.72,215.89 217.76,215.94 217.87,215.18 218.01,215.34 218.16,214.49 218.21,214.86 218.31,215.38 218.45,215.48 218.60,215.72 218.65,216.24 218.75,215.82 218.89,216.10 219.04,216.26 219.09,216.60 219.18,216.48 219.33,216.39 219.48,216.72 219.53,216.50 219.62,216.07 219.77,216.73 219.91,216.86 219.98,216.82 220.06,216.52 220.21,215.35 220.35,216.83 220.42,215.48 220.50,216.38 220.65,215.94 220.79,215.58 220.86,216.63 220.94,215.87 221.08,216.25 221.23,215.58 221.31,215.66 221.38,216.36 221.52,216.34 221.67,216.55 221.75,216.37 221.81,216.45 221.96,216.94 222.11,216.42 222.19,215.47 222.25,216.72 222.40,215.24 222.55,216.59 222.63,216.68 222.69,215.69 222.84,215.59 222.98,215.61 223.08,216.76 223.13,216.90 223.28,215.87 223.42,216.44 223.52,216.50 223.57,216.78 223.71,216.88 223.86,215.37 223.96,216.79 224.41,216.06 224.85,215.60 225.29,216.90 225.73,215.55 226.18,216.08 226.62,216.63 227.06,216.85 227.51,216.51 227.95,215.57 228.39,216.73 228.83,215.97 229.28,215.86 229.72,215.49 230.16,216.74 230.61,216.49 231.05,215.70 231.49,216.89 231.94,216.75 232.38,216.01 232.82,215.34 233.26,216.21 233.71,216.13 234.15,215.90 234.59,216.42 235.04,216.70 235.48,216.18 235.92,215.11 236.36,215.76 236.81,216.36 237.25,216.78 237.69,216.01 238.14,216.07 238.58,215.97 239.02,216.67 239.46,214.37 239.91,216.04 240.35,216.26 240.79,215.93 241.24,216.41 241.68,216.39 242.12,216.68 242.57,216.30 243.01,216.81 243.45,215.23 243.89,216.17 244.34,216.20 244.78,216.83 245.22,216.44 245.67,216.63 246.11,216.58 246.55,216.82 246.99,216.02 247.44,215.01 247.88,216.91 248.32,216.64 248.77,216.39 249.21,216.31 249.65,216.85 250.09,215.20 250.54,216.65 250.98,216.02 251.42,216.93 251.87,215.20 252.31,216.72 252.75,215.01 253.19,216.52 253.64,215.84 254.08,216.94 254.52,216.39 254.97,216.74 255.41,216.33 255.85,216.70 256.30,216.32 256.74,216.56 257.18,215.87 257.62,215.10 258.07,216.18 258.51,216.74 258.95,216.90 259.40,216.79 259.84,216.70 260.28,216.28 260.72,216.26 261.17,216.25 261.61,216.89 262.05,215.89 262.50,216.21 262.94,216.80 263.38,216.66 263.82,215.28 264.27,216.24 264.71,215.78 265.15,216.71 265.60,215.64 266.04,216.01 266.48,216.79 266.93,216.60 267.37,216.90 267.81,216.06 268.25,216.66 268.70,215.09 269.14,216.51 269.58,216.16 270.03,216.87 270.47,215.68 270.91,216.95 271.35,215.05 271.80,216.42 272.24,216.96 272.68,216.42 273.13,216.69 273.57,215.51 274.01,215.79 274.45,215.94 274.90,216.68 275.34,216.55 275.78,216.11 276.23,216.43 276.67,216.57 277.11,216.96 277.55,216.61 278.00,214.73 278.44,216.94 278.88,216.33 279.33,215.58 279.77,215.97 280.21,216.63 280.66,216.08 281.10,216.16 281.54,216.85 281.98,216.82 282.43,215.97 282.87,215.36 283.31,216.79 283.76,213.45 284.20,216.51 284.64,216.78 285.08,216.25 285.53,215.54 285.97,216.55 286.41,214.92 286.86,216.63 287.30,216.73 287.74,216.64 288.18,216.28 288.63,216.65 289.07,216.38 289.51,216.81 289.96,215.60 290.40,216.14 290.84,215.61 291.29,215.39 291.73,215.79 292.17,216.13 292.61,215.89 293.06,216.69 293.50,216.52 293.94,215.99 294.39,216.67 294.83,214.54 295.27,215.68 295.71,216.54 296.16,216.92 296.60,216.45 297.04,216.09 297.49,216.38 297.93,216.44 298.37,216.10 298.81,216.50 299.26,215.80 299.70,216.88 300.14,215.86 300.59,215.90 301.03,216.91 301.47,216.68 301.91,216.90 302.36,215.62 302.80,216.74 303.24,216.57 303.69,216.25 304.13,216.07 304.57,216.78 305.02,215.51 305.46,216.80 305.90,216.08 306.34,213.96 306.79,216.51 307.23,215.30 307.67,216.95 308.12,215.93 308.56,216.54 309.00,215.56 309.44,216.25 309.89,216.47 310.33,216.42 310.77,216.21 311.22,216.61 311.66,216.86 312.10,216.68 312.54,216.86 312.99,215.63 313.43,215.98 313.87,215.27 314.32,216.80 314.76,216.32 315.20,215.44 315.65,216.71 316.09,215.18 316.53,216.92 316.97,216.63 317.42,216.82 317.86,216.64 318.30,216.31 318.75,216.28 319.19,216.75 319.63,216.09 320.07,216.19 320.52,215.77 320.96,216.12 321.40,216.25 321.85,216.62 322.29,216.76 322.73,216.67 323.17,216.31 323.62,216.72 324.06,216.74 324.50,215.25 324.95,215.90 325.39,215.61 325.83,216.90 326.27,216.71 326.72,216.23 327.16,216.40 327.60,216.90 328.05,216.25 328.49,216.86 328.93,216.43 329.38,216.90 329.44,215.84 329.58,216.34 329.73,216.33 329.82,216.72 329.88,216.18 330.02,215.84 330.17,216.68 330.26,216.52 330.31,216.42 330.46,214.98 330.61,216.18 330.70,216.51 330.75,215.48 330.90,216.49 331.05,215.72 331.15,215.96 331.19,215.25 331.34,215.55 331.48,215.79 331.59,216.69 331.63,216.34 331.78,215.70 331.92,216.75 332.03,216.34 332.07,215.75 332.21,216.06 332.36,216.37 332.48,216.16 332.51,216.35 332.65,216.35 332.80,215.44 332.92,215.84 332.95,216.11 333.09,216.62 333.24,216.05 333.36,216.74 333.38,216.64 333.53,216.63 333.68,216.71 333.80,216.50 333.82,216.47 333.97,216.27 334.11,215.73 334.25,216.02 334.26,216.12 334.41,216.20 334.55,215.60 334.69,215.36 334.70,215.49 334.85,215.32 334.99,214.38 335.13,213.69 335.14,213.58 335.28,213.24 335.43,213.59 335.58,214.55 335.58,214.30 335.72,215.12 335.87,215.71 336.01,215.79 336.02,215.79 336.16,215.84 336.31,216.31 336.45,216.21 336.46,216.12 336.60,216.36 336.75,216.04 336.89,216.15 336.90,216.49 337.04,216.55 337.18,216.59 337.33,216.37 337.35,216.46 337.48,215.07 337.62,216.43 337.77,216.14 337.79,214.78 337.91,215.90 338.06,216.22 338.21,214.74 338.23,214.15 338.35,216.64 338.50,216.33 338.65,216.69 338.68,215.75 338.79,216.36 338.94,216.12 339.08,215.57 339.12,216.24 339.23,216.49 339.38,215.75 339.52,215.90 339.56,216.13 339.67,216.35 339.67,216.32 339.81,216.07 339.81,216.19 339.96,216.07 339.96,216.15 340.01,215.78 340.11,215.88 340.11,216.14 340.25,215.09 340.25,215.39 340.40,216.27 340.40,216.02 340.45,216.11 340.55,215.97 340.55,216.03 340.69,216.48 340.69,215.35 340.84,215.73 340.84,215.42 340.89,216.02 340.98,216.20 340.98,216.43 341.13,216.18 341.28,216.42 341.33,216.31 341.42,216.21 341.57,214.37 341.71,216.37 341.78,215.56 341.86,214.88 342.01,215.65 342.15,215.78 342.22,215.98 342.30,215.83 342.45,214.81 342.59,215.24 342.66,215.87 342.74,214.06 342.88,214.87 343.03,214.03 343.11,214.86 343.18,215.10 343.32,214.06 343.47,214.70 343.55,214.51 343.61,214.76 343.76,214.34 343.91,214.15 343.99,213.73 344.05,213.23 344.20,213.09 344.35,212.24 344.43,211.66 344.49,211.32 344.64,210.20 344.78,208.24 344.88,207.05 344.93,206.62 345.08,202.61 345.22,201.67 345.32,199.65 345.37,199.65 345.51,198.98 345.66,199.72 345.76,200.58 345.81,201.13 345.95,204.29 346.10,206.56 346.21,208.04 346.25,208.47 346.39,210.24 346.54,211.09 346.65,212.08 346.68,212.10 346.83,213.04 346.98,213.30 347.09,214.01 347.12,213.68 347.27,214.52 347.41,214.86 347.53,213.97 347.56,214.46 347.71,214.68 347.85,215.30 347.98,215.47 348.00,214.14 348.15,214.72 348.29,214.86 348.42,215.24 348.44,215.80 348.58,215.41 348.73,216.03 348.86,215.57 348.88,215.36 349.02,214.26 349.02,215.89 349.17,216.22 349.17,216.34 349.31,215.98 349.32,216.06 349.32,214.65 349.46,216.21 349.46,216.35 349.61,215.92 349.61,216.01 349.75,215.57 349.75,216.19 349.75,215.78 349.90,215.39 349.90,215.66 350.05,215.81 350.05,216.33 350.19,216.24 350.19,216.13 350.19,215.20 350.34,215.35 350.34,214.28 350.48,216.43 350.48,215.20 350.63,216.06 350.63,216.24 350.63,216.47 350.78,216.15 350.78,216.05 350.92,215.41 350.92,216.10 351.07,215.31 351.07,216.29 351.08,215.75 351.22,215.86 351.22,216.20 351.36,215.61 351.51,216.57 351.52,216.45 351.65,216.20 351.80,216.26 351.95,215.93 351.96,216.36 352.09,216.44 352.24,216.48 352.38,216.20 352.41,215.21 352.53,215.22 352.68,216.20 352.82,216.66 352.85,216.39 352.97,216.08 353.12,216.48 353.26,216.06 353.29,216.27 353.41,216.51 353.55,216.48 353.70,216.27 353.74,216.49 353.85,215.73 353.99,215.98 354.14,215.92 354.18,215.95 354.28,215.46 354.43,215.32 354.58,214.49 354.62,214.36 354.72,213.34 354.87,213.49 355.02,213.92 355.06,213.65 355.16,214.57 355.31,214.80 355.45,215.82 355.51,215.79 355.60,216.09 355.75,216.00 355.89,216.13 355.95,216.27 356.04,215.71 356.18,215.78 356.33,216.10 356.39,216.08 356.48,216.42 356.62,216.55 356.77,216.55 356.84,215.43 356.92,215.69 357.06,216.59 357.21,216.55 357.28,215.17 357.35,215.42 357.50,216.78 357.65,215.45 357.72,216.15 357.79,216.44 357.94,216.31 358.08,216.18 358.16,215.58 358.23,216.73 358.38,216.46 358.52,216.72 358.61,216.73 358.67,216.74 358.82,216.68 358.96,216.00 359.05,216.50 359.11,216.79 359.25,216.54 359.40,216.20 359.49,215.58 359.55,216.11 359.69,216.49 359.84,215.57 359.94,216.71 359.98,216.89 360.13,216.61 360.28,216.10 360.38,216.90 360.42,216.80 360.57,215.77 360.82,216.39 361.26,215.98 361.71,216.85 362.15,216.25 362.59,216.72 363.04,216.55 363.48,215.15 363.92,216.35 364.37,215.42 364.81,216.58 365.25,216.85 365.69,216.37 366.14,216.32 366.58,216.19 367.02,215.44 367.47,214.91 367.91,216.25 368.35,215.11 368.79,214.18 369.24,216.94 369.68,216.38 370.12,215.75 370.57,216.53 371.01,216.34 371.45,216.83 371.89,216.79 372.34,216.70 372.78,215.22 373.22,216.82 373.67,216.83 374.11,216.95 374.55,216.21 374.99,216.44 375.44,216.41 375.88,215.29 376.32,216.31 376.77,216.78 377.21,215.50 377.65,216.88 378.10,216.71 378.54,214.96 378.98,216.62 379.42,215.20 379.87,216.59 380.31,214.70 380.75,216.56 381.20,216.29 381.64,216.25 382.08,216.47 382.52,216.66 382.97,214.82 383.41,216.67 383.85,215.45 384.30,215.39 384.74,216.71 385.18,216.56 385.62,216.84 386.07,216.86 386.51,215.71 386.95,216.78 387.40,216.62 387.84,216.67 388.28,216.85 388.73,216.84 389.17,216.60 389.61,216.20 390.05,216.83 390.50,216.70 390.94,214.47 391.38,216.77 391.83,216.64 392.27,216.55 392.71,215.50 393.15,216.71 393.60,216.95 394.04,216.39 394.48,216.73 394.93,216.71 395.37,216.17 395.81,216.43 396.25,215.27 396.70,216.37 397.14,216.93 397.58,216.47 398.03,215.69 398.47,216.60 398.91,216.44 399.35,216.83 399.80,215.31 400.24,216.04 400.68,216.01 401.13,215.21 401.57,216.36 402.01,216.22 402.46,216.82 402.90,216.43 403.34,216.76 403.78,216.92 404.23,216.63 404.67,216.88 405.11,216.10 405.56,216.86 406.00,216.36 406.44,216.62 406.88,214.74 407.33,216.77 407.77,216.38 408.21,215.16 408.66,215.64 409.10,216.82 409.54,216.41 409.98,216.73 410.43,213.47 410.87,216.18 411.31,216.38 411.76,216.20 412.20,214.66 412.64,216.94 413.09,216.01 413.53,216.84 413.97,215.55 414.41,216.80 414.86,215.82 415.30,216.80 415.74,216.43 416.19,216.24 416.63,216.40 417.07,216.66 417.51,216.86 417.96,216.53 418.40,216.71 418.84,216.33 419.29,216.74 419.73,216.48 420.17,214.86 420.61,215.56 421.06,216.07 421.50,216.38 421.94,216.55 422.39,215.99 422.83,216.88 423.27,215.60 423.71,215.42 424.16,216.85 424.60,216.42 425.04,216.45 425.49,216.72 425.93,216.62 426.37,216.05 426.82,216.71 427.26,215.36 427.70,216.30 428.14,215.47 428.59,216.93 429.03,216.07 429.47,215.83 429.92,216.89 430.36,216.61 430.80,215.83 431.24,216.23 431.69,215.24 432.13,216.84 432.57,215.56 433.02,214.62 433.46,213.80 433.90,215.59 434.34,216.81 434.79,216.83 435.23,216.84 435.67,216.07 436.12,216.68 436.56,216.38 437.00,216.91 437.45,215.09 437.89,216.23 438.33,216.11 438.77,214.39 439.22,215.42 439.66,216.28 440.10,215.77 440.55,214.90 440.99,216.86 441.43,216.76 441.87,216.32 442.32,215.89 442.76,216.39 443.20,216.61 443.65,214.61 444.09,215.89 444.53,216.16 444.97,215.35 445.42,216.63 445.86,215.72 446.30,216.51 446.75,216.36 447.19,214.75 447.63,216.58 448.07,216.65 448.52,216.59 448.96,216.29 449.40,216.14 449.85,215.92 450.29,216.74 450.73,215.40 451.18,216.46 451.62,216.83 452.06,215.84 452.50,216.84 452.95,216.56 453.39,216.44 453.83,216.71 454.28,215.61 454.72,216.11 455.16,216.08 455.60,216.87 456.05,216.96 456.49,216.21 456.93,216.86 457.38,216.61 457.82,216.13 458.26,215.75 458.70,216.38 459.15,215.54 459.59,215.86 460.03,216.65 460.48,215.62 460.92,215.31 461.36,215.84 461.81,216.66 462.25,215.59 462.69,215.60 463.13,216.96 463.58,216.79 464.02,215.60 464.46,216.85 464.91,216.05 465.35,215.98 465.79,216.25 466.23,215.61 466.68,216.85 467.12,216.65 467.56,216.77 468.01,215.49 468.45,216.37 468.89,215.09 469.33,216.31 469.78,216.88 470.22,216.39 470.66,216.96 471.11,216.96 471.55,216.32 471.99,216.30 472.43,216.62 472.88,215.92 473.32,216.94 473.76,216.37 474.21,216.55 474.65,215.79 475.09,215.50 475.54,216.96 475.98,216.76 476.42,216.22 476.86,215.78 477.31,216.59 477.75,216.78 478.19,216.53 478.64,216.46 479.08,215.08 479.52,215.95 479.96,216.30 480.41,216.28 480.85,215.88 481.29,215.06 481.74,216.94 482.18,216.31 482.62,216.90 483.06,215.91 483.51,216.80 483.95,215.25 484.39,216.55 484.84,214.64 485.28,214.96 485.72,216.94 486.17,216.43 486.61,216.56 487.05,216.14 487.49,216.48 487.94,216.78 488.38,216.81 488.82,215.97 489.27,215.94 489.71,216.71 490.15,216.37 490.59,216.12 491.04,215.69 491.48,216.15 491.92,215.65 492.37,216.63 492.81,216.78 493.25,216.52 493.69,215.82 494.14,216.70 494.58,215.68 495.02,215.97 495.47,216.46 495.91,214.06 496.35,214.32 496.79,216.91 497.24,215.55 497.68,216.60 498.12,216.67 498.57,213.71 499.01,215.70 499.45,215.89 499.90,216.60 500.34,216.87 500.78,216.72 501.22,216.49 501.67,215.61 502.11,216.36 502.55,214.70 503.00,216.12 503.44,216.81 503.88,216.30 504.32,215.83 504.77,216.40 505.21,216.16 505.65,216.84 506.10,216.63 506.54,216.63 506.98,215.26 507.42,216.33 507.87,216.88 508.31,216.70 508.75,216.58 509.20,215.36 509.64,216.93 510.08,216.58 510.53,215.30 510.97,215.23 511.41,216.81 511.85,216.90 512.30,215.32 512.74,216.96 513.18,216.85 513.63,216.37 514.07,213.32 514.51,216.35 514.95,214.91 515.40,216.82 515.84,216.69 516.28,216.37 516.73,216.33 517.17,216.27 517.61,215.97 518.05,216.25 518.50,216.15 518.94,216.50 519.38,216.57 519.83,216.77 520.27,216.83 520.71,215.64 521.15,216.02 521.60,215.40 522.04,216.07 522.48,214.80 522.93,216.66 523.37,215.77 523.81,216.70 524.26,215.97 524.70,216.42 525.14,215.91 525.58,216.44 526.03,216.77 526.47,216.01 526.91,216.56 527.36,215.51 527.80,216.54 528.24,214.77 528.68,215.59 529.13,215.94 529.57,216.38 530.01,215.79 530.46,216.69 530.90,216.45 531.34,216.46 531.78,216.44 532.23,216.46 532.67,216.43 533.11,215.92 533.56,216.31 534.00,216.89 534.44,216.77 534.89,216.16 535.33,216.75 535.77,216.43 536.21,216.21 536.66,216.19 537.10,215.92 537.54,215.89 537.99,216.62 538.43,216.54 538.87,215.99 539.31,216.65 539.76,215.78 540.20,216.78" fill="none" stroke="#0d6fbc" stroke-width="0.9" stroke-linejoin="round"/>
<path d="M130.07 215.22L130.37 178.00L130.67 215.22M198.28 216.34L198.58 196.61L198.88 216.34M208.21 215.79L208.51 187.50L208.81 215.79M217.86 216.53L218.16 199.78L218.46 216.53M334.98 215.51L335.28 182.75L335.58 215.51M345.21 212.75L345.51 136.82L345.81 212.75M354.57 215.58L354.87 183.94L355.17 215.58" fill="none" stroke="#0d6fbc" stroke-width="0.95" stroke-linejoin="miter"/>
<path d="M53.0 333.4H540.2" stroke="#151515" stroke-width="0.9" fill="none"/>
<path d="M101.7 333.4v-5.4" stroke="#151515" stroke-width="0.9" fill="none"/>
<path d="M150.4 333.4v-5.4" stroke="#151515" stroke-width="0.9" fill="none"/>
<path d="M199.2 333.4v-5.4" stroke="#151515" stroke-width="0.9" fill="none"/>
<path d="M247.9 333.4v-5.4" stroke="#151515" stroke-width="0.9" fill="none"/>
<path d="M296.6 333.4v-5.4" stroke="#151515" stroke-width="0.9" fill="none"/>
<path d="M345.3 333.4v-5.4" stroke="#151515" stroke-width="0.9" fill="none"/>
<path d="M394.0 333.4v-5.4" stroke="#151515" stroke-width="0.9" fill="none"/>
<path d="M442.8 333.4v-5.4" stroke="#151515" stroke-width="0.9" fill="none"/>
<path d="M491.5 333.4v-5.4" stroke="#151515" stroke-width="0.9" fill="none"/>
<path d="M539.9 333.4v-5.4" stroke="#151515" stroke-width="0.9" fill="none"/>
<path d="M53.0 332.65H128.8M132.0 332.65H198.6M198.6 332.65H208.5M208.5 332.65H218.2M218.2 332.65H333.7M336.9 332.65H342.3M348.7 332.65H353.3M356.5 332.65H540.2" stroke="#0d6fbc" stroke-width="1.3" fill="none"/>
<polyline points="53.00,332.69 53.44,331.39 53.89,332.51 54.33,332.17 54.77,332.72 55.21,332.29 55.66,332.50 56.10,331.84 56.54,332.04 56.99,332.70 57.43,332.17 57.87,331.24 58.31,331.24 58.76,332.27 59.20,331.25 59.64,332.64 60.09,332.14 60.53,332.05 60.97,332.08 61.42,331.30 61.86,331.35 62.30,332.27 62.74,332.24 63.19,332.57 63.63,332.75 64.07,331.76 64.52,332.05 64.96,332.00 65.40,332.47 65.84,331.96 66.29,331.91 66.73,332.51 67.17,332.29 67.62,332.63 68.06,332.43 68.50,332.36 68.94,331.54 69.39,331.70 69.83,331.75 70.27,331.75 70.72,331.61 71.16,331.89 71.60,331.71 72.05,332.18 72.49,332.36 72.93,332.13 73.37,332.28 73.82,332.35 74.26,331.70 74.70,332.38 75.15,330.19 75.59,332.44 76.03,332.54 76.47,332.09 76.92,331.92 77.36,331.81 77.80,330.37 78.25,332.72 78.69,332.40 79.13,332.10 79.57,331.51 80.02,331.98 80.46,332.36 80.90,332.20 81.35,332.74 81.79,332.02 82.23,331.88 82.67,332.55 83.12,332.70 83.56,332.72 84.00,331.62 84.45,332.63 84.89,332.32 85.33,332.57 85.78,332.49 86.22,332.20 86.66,332.30 87.10,332.67 87.55,330.81 87.99,330.85 88.43,331.64 88.88,331.58 89.32,331.73 89.76,332.64 90.20,332.16 90.65,331.93 91.09,332.57 91.53,332.17 91.98,331.76 92.42,332.34 92.86,331.64 93.30,332.21 93.75,332.40 94.19,332.44 94.63,332.02 95.08,332.61 95.52,332.52 95.96,332.61 96.41,331.64 96.85,331.87 97.29,332.42 97.73,331.88 98.18,332.61 98.62,332.04 99.06,331.68 99.51,329.95 99.95,332.48 100.39,331.80 100.83,331.72 101.28,330.91 101.72,332.20 102.16,332.02 102.61,332.07 103.05,332.70 103.49,332.19 103.93,332.63 104.38,332.34 104.82,331.67 105.26,332.59 105.71,332.39 106.15,331.97 106.59,332.07 107.03,332.43 107.48,331.31 107.92,332.58 108.36,332.72 108.81,332.49 109.25,332.33 109.69,332.14 110.14,332.45 110.58,331.66 111.02,331.65 111.46,332.43 111.91,332.23 112.35,330.97 112.79,331.88 113.24,330.96 113.68,331.69 114.12,332.16 114.56,331.45 115.01,332.74 115.45,332.28 115.89,331.55 116.34,332.32 116.78,332.48 117.22,330.94 117.66,331.59 118.11,332.76 118.55,330.66 118.99,332.00 119.44,331.59 119.88,332.05 120.32,331.83 120.77,332.64 121.21,331.78 121.65,332.68 122.09,332.76 122.54,332.39 122.98,332.41 123.42,332.07 123.87,332.06 124.31,332.45 124.52,332.38 124.67,332.52 124.75,332.28 124.81,330.69 124.96,332.12 125.11,332.55 125.19,331.98 125.25,331.55 125.40,332.43 125.54,332.32 125.64,331.65 125.69,332.61 125.84,332.48 125.98,331.82 126.08,332.50 126.13,331.57 126.27,332.46 126.42,331.32 126.52,331.78 126.57,331.21 126.71,332.50 126.86,332.13 126.97,332.32 127.01,332.56 127.15,331.46 127.30,332.02 127.41,332.66 127.44,332.66 127.59,331.39 127.74,331.72 127.85,331.01 127.88,332.44 128.03,330.66 128.17,331.05 128.29,332.63 128.32,332.20 128.47,332.02 128.61,331.95 128.74,332.50 128.76,332.13 128.91,332.25 129.05,332.21 129.18,332.18 129.20,332.05 129.34,331.71 129.49,331.72 129.62,331.84 129.64,331.51 129.78,331.45 129.93,330.44 130.07,330.08 130.08,330.17 130.22,328.54 130.37,328.82 130.51,329.26 130.51,328.91 130.66,330.20 130.81,330.65 130.95,331.02 130.95,331.18 131.10,331.81 131.24,332.07 131.39,332.19 131.39,331.78 131.54,331.76 131.68,331.77 131.83,332.17 131.84,332.31 131.98,332.42 132.12,332.58 132.27,332.60 132.28,332.43 132.41,331.93 132.56,331.91 132.71,332.23 132.72,331.26 132.85,331.71 133.00,330.06 133.14,332.30 133.17,331.35 133.29,331.47 133.44,332.66 133.58,331.64 133.61,331.75 133.73,332.22 133.88,330.19 134.02,332.36 134.05,330.86 134.17,331.93 134.31,331.73 134.46,332.30 134.50,332.22 134.61,332.45 134.75,331.59 134.90,332.19 134.94,332.70 135.04,332.38 135.19,331.82 135.34,332.12 135.38,332.51 135.48,332.62 135.63,331.31 135.78,332.57 135.82,331.64 135.92,331.17 136.07,332.75 136.27,332.70 136.71,331.78 137.15,331.56 137.60,331.34 138.04,332.42 138.48,332.48 138.92,331.77 139.37,331.10 139.81,332.02 140.25,332.06 140.70,332.29 141.14,330.53 141.58,331.70 142.02,331.20 142.47,331.91 142.91,331.90 143.35,332.45 143.80,332.61 144.24,332.40 144.68,331.15 145.13,332.35 145.57,331.65 146.01,331.92 146.45,330.46 146.90,332.46 147.34,332.61 147.78,331.86 148.23,329.66 148.67,332.23 149.11,332.70 149.55,332.70 150.00,331.27 150.44,331.23 150.88,331.05 151.33,332.76 151.77,331.21 152.21,332.04 152.65,331.96 153.10,332.46 153.54,332.75 153.98,331.43 154.43,331.71 154.87,331.29 155.31,332.66 155.75,332.44 156.20,332.71 156.64,331.30 157.08,331.64 157.53,332.46 157.97,332.65 158.41,332.46 158.86,332.42 159.30,332.55 159.74,331.98 160.18,332.26 160.63,332.01 161.07,331.79 161.51,331.81 161.96,331.96 162.40,332.34 162.84,332.44 163.28,332.08 163.73,332.31 164.17,332.56 164.61,332.16 165.06,331.67 165.50,331.95 165.94,332.32 166.38,332.28 166.83,332.38 167.27,332.08 167.71,331.11 168.16,331.52 168.60,331.53 169.04,332.16 169.49,332.69 169.93,331.84 170.37,332.46 170.81,332.40 171.26,331.08 171.70,332.58 172.14,331.97 172.59,332.44 173.03,332.05 173.47,332.62 173.91,331.46 174.36,332.23 174.80,331.61 175.24,331.95 175.69,331.97 176.13,332.47 176.57,332.17 177.01,331.84 177.46,332.67 177.90,332.63 178.34,330.46 178.79,331.84 179.23,332.52 179.67,332.07 180.11,332.18 180.56,332.24 181.00,330.91 181.44,331.91 181.89,332.18 182.33,331.84 182.77,331.63 183.22,332.53 183.66,331.06 184.10,331.84 184.54,332.60 184.99,331.59 185.43,331.08 185.87,332.52 186.32,331.85 186.76,332.72 187.20,332.01 187.64,331.77 188.09,331.91 188.53,330.78 188.97,332.68 189.42,331.86 189.86,331.16 190.30,331.74 190.74,332.24 191.19,332.63 191.63,331.06 192.07,332.68 192.52,332.74 192.73,331.83 192.88,332.21 192.96,332.63 193.02,331.57 193.17,332.03 193.31,332.23 193.40,331.18 193.46,332.61 193.61,332.49 193.75,332.42 193.85,332.49 193.90,332.71 194.04,331.91 194.19,331.81 194.29,332.00 194.34,332.44 194.48,330.87 194.63,332.27 194.73,331.08 194.78,331.20 194.92,331.65 195.07,332.10 195.17,332.39 195.21,332.52 195.36,332.09 195.51,331.09 195.62,332.21 195.65,331.76 195.80,332.14 195.94,331.90 196.06,332.22 196.09,331.83 196.24,331.95 196.38,331.66 196.50,331.87 196.53,332.67 196.68,332.31 196.82,332.44 196.95,332.49 196.97,332.46 197.11,332.27 197.26,332.59 197.39,332.08 197.41,332.53 197.55,332.43 197.70,332.32 197.83,332.12 197.84,331.80 197.99,331.87 198.14,331.72 198.27,330.83 198.28,331.33 198.43,330.86 198.58,330.28 198.72,330.42 198.72,330.74 198.87,331.08 199.01,331.70 199.16,331.59 199.16,332.08 199.31,332.00 199.45,332.32 199.60,332.41 199.60,331.98 199.74,332.35 199.89,332.19 200.04,332.37 200.05,332.37 200.18,332.30 200.33,332.35 200.48,332.58 200.49,332.63 200.62,331.68 200.77,332.36 200.91,330.50 200.93,332.08 201.06,330.74 201.21,332.39 201.35,329.73 201.37,332.71 201.50,332.49 201.64,332.33 201.79,331.32 201.82,331.29 201.94,332.61 202.08,332.18 202.23,332.27 202.26,331.77 202.38,332.35 202.52,331.83 202.67,331.14 202.67,332.11 202.70,329.42 202.81,331.49 202.81,331.02 202.96,331.70 202.96,330.99 203.11,332.24 203.11,331.41 203.15,332.26 203.25,330.87 203.25,331.16 203.40,331.76 203.40,332.16 203.54,331.34 203.54,332.66 203.59,332.47 203.69,332.64 203.69,332.16 203.84,332.35 203.84,332.24 203.98,332.59 203.98,330.61 204.03,330.59 204.13,332.05 204.13,332.01 204.28,332.18 204.28,332.07 204.42,332.09 204.47,331.79 204.57,331.70 204.71,332.61 204.86,332.44 204.92,331.28 205.01,332.12 205.15,332.14 205.30,331.14 205.36,332.42 205.44,331.37 205.59,331.08 205.74,332.24 205.80,332.68 205.88,332.31 206.03,331.24 206.18,332.35 206.25,330.57 206.32,332.49 206.47,331.91 206.61,332.59 206.69,332.60 206.76,332.22 206.91,332.51 207.05,332.40 207.13,332.32 207.20,332.51 207.34,332.45 207.49,332.31 207.58,331.88 207.64,332.01 207.78,331.61 207.93,331.64 208.02,331.25 208.08,330.87 208.22,330.75 208.37,329.88 208.46,329.25 208.51,329.63 208.66,329.69 208.81,330.75 208.90,331.09 208.95,330.93 209.10,331.73 209.25,331.75 209.35,332.17 209.39,331.34 209.54,331.56 209.68,332.13 209.79,332.16 209.83,331.94 209.98,332.54 210.12,332.30 210.23,332.20 210.27,332.47 210.41,330.50 210.56,331.42 210.68,332.55 210.71,332.65 210.85,332.19 211.00,332.45 211.12,331.82 211.15,331.08 211.29,331.30 211.44,331.70 211.56,331.86 211.58,331.84 211.73,331.64 211.88,331.57 212.00,332.29 212.02,332.49 212.17,331.95 212.31,331.56 212.31,331.83 212.45,332.12 212.46,332.60 212.46,331.75 212.61,332.17 212.61,332.70 212.75,330.89 212.75,332.54 212.89,332.53 212.90,332.28 212.90,331.45 213.05,332.01 213.05,332.45 213.19,332.43 213.19,332.46 213.33,331.27 213.34,332.02 213.34,331.95 213.48,331.38 213.48,332.53 213.63,332.52 213.63,330.58 213.78,331.57 213.78,331.54 213.78,331.89 213.92,332.25 213.92,332.17 214.07,332.43 214.07,331.87 214.21,332.53 214.21,332.15 214.22,331.83 214.36,332.17 214.51,331.13 214.65,332.09 214.66,332.43 214.80,330.66 214.95,332.56 215.09,332.40 215.10,331.44 215.24,332.58 215.38,331.70 215.53,331.67 215.55,331.83 215.68,332.25 215.82,331.18 215.97,332.56 215.99,332.40 216.11,331.59 216.26,332.35 216.41,332.50 216.43,332.60 216.55,332.50 216.70,332.27 216.85,332.14 216.88,332.12 216.99,332.00 217.14,332.14 217.28,332.35 217.32,332.21 217.43,331.92 217.58,332.17 217.72,331.73 217.76,331.85 217.87,331.57 218.01,331.07 218.16,330.47 218.21,330.51 218.31,331.02 218.45,331.59 218.60,331.71 218.65,331.89 218.75,332.02 218.89,332.19 219.04,332.44 219.09,332.04 219.18,332.51 219.33,332.39 219.48,332.47 219.53,332.04 219.62,332.40 219.77,332.26 219.91,332.57 219.98,332.27 220.06,332.36 220.21,332.16 220.35,331.40 220.42,331.09 220.50,332.51 220.65,331.85 220.79,332.44 220.86,332.43 220.94,332.73 221.08,332.72 221.23,332.67 221.31,331.69 221.38,331.67 221.52,332.56 221.67,332.50 221.75,332.62 221.81,331.73 221.96,332.68 222.11,331.43 222.19,332.64 222.25,331.93 222.40,332.29 222.55,331.97 222.63,331.42 222.69,332.16 222.84,331.52 222.98,332.37 223.08,331.08 223.13,332.29 223.28,332.23 223.42,332.59 223.52,331.46 223.57,331.10 223.71,332.40 223.86,331.62 223.96,332.25 224.41,332.46 224.85,331.05 225.29,332.21 225.73,331.13 226.18,331.72 226.62,332.57 227.06,332.37 227.51,331.70 227.95,331.25 228.39,332.26 228.83,332.73 229.28,332.56 229.72,331.25 230.16,331.37 230.61,332.62 231.05,332.47 231.49,332.22 231.94,332.61 232.38,331.39 232.82,331.43 233.26,332.45 233.71,332.62 234.15,332.01 234.59,331.15 235.04,332.16 235.48,332.47 235.92,331.97 236.36,332.36 236.81,332.43 237.25,332.23 237.69,331.99 238.14,332.58 238.58,332.59 239.02,332.25 239.46,332.71 239.91,331.69 240.35,332.38 240.79,332.44 241.24,331.17 241.68,332.16 242.12,332.57 242.57,332.07 243.01,332.13 243.45,332.68 243.89,332.36 244.34,331.12 244.78,332.28 245.22,331.36 245.67,332.09 246.11,332.45 246.55,331.57 246.99,331.72 247.44,331.39 247.88,332.56 248.32,331.95 248.77,331.91 249.21,332.29 249.65,332.22 250.09,331.90 250.54,332.48 250.98,332.20 251.42,332.49 251.87,332.33 252.31,332.03 252.75,331.46 253.19,332.73 253.64,331.88 254.08,332.28 254.52,331.49 254.97,332.03 255.41,332.41 255.85,330.87 256.30,332.22 256.74,332.76 257.18,332.28 257.62,331.77 258.07,332.30 258.51,331.46 258.95,331.80 259.40,332.20 259.84,331.85 260.28,332.60 260.72,332.01 261.17,332.26 261.61,332.72 262.05,331.79 262.50,332.12 262.94,332.67 263.38,331.02 263.82,332.21 264.27,331.98 264.71,332.20 265.15,330.45 265.60,332.27 266.04,332.55 266.48,330.92 266.93,332.49 267.37,331.57 267.81,332.68 268.25,332.46 268.70,329.66 269.14,332.25 269.58,332.25 270.03,331.89 270.47,332.17 270.91,332.58 271.35,332.71 271.80,331.04 272.24,332.45 272.68,332.33 273.13,331.97 273.57,331.54 274.01,332.53 274.45,332.05 274.90,332.49 275.34,331.16 275.78,331.76 276.23,331.39 276.67,332.10 277.11,331.84 277.55,332.37 278.00,332.20 278.44,331.74 278.88,332.56 279.33,331.70 279.77,331.84 280.21,332.74 280.66,331.63 281.10,332.30 281.54,332.69 281.98,331.52 282.43,331.91 282.87,332.18 283.31,331.86 283.76,331.67 284.20,332.61 284.64,332.55 285.08,330.80 285.53,332.76 285.97,332.15 286.41,331.44 286.86,332.67 287.30,332.55 287.74,332.50 288.18,332.32 288.63,331.58 289.07,330.29 289.51,332.19 289.96,332.13 290.40,331.92 290.84,331.23 291.29,332.52 291.73,330.48 292.17,330.81 292.61,332.07 293.06,332.07 293.50,332.10 293.94,332.60 294.39,331.53 294.83,332.60 295.27,332.43 295.71,332.15 296.16,330.13 296.60,331.84 297.04,331.97 297.49,332.53 297.93,332.39 298.37,332.56 298.81,332.48 299.26,331.46 299.70,331.43 300.14,332.64 300.59,331.88 301.03,331.70 301.47,332.70 301.91,332.40 302.36,331.31 302.80,332.21 303.24,332.05 303.69,330.90 304.13,332.26 304.57,332.26 305.02,332.33 305.46,332.56 305.90,331.58 306.34,332.18 306.79,331.95 307.23,331.37 307.67,330.39 308.12,331.39 308.56,332.50 309.00,332.42 309.44,332.04 309.89,331.34 310.33,332.47 310.77,331.74 311.22,332.39 311.66,332.59 312.10,331.45 312.54,331.84 312.99,332.43 313.43,331.18 313.87,332.23 314.32,332.29 314.76,332.27 315.20,332.72 315.65,332.20 316.09,332.20 316.53,332.59 316.97,332.72 317.42,332.45 317.86,330.88 318.30,331.79 318.75,332.08 319.19,332.00 319.63,332.54 320.07,331.69 320.52,332.40 320.96,331.37 321.40,331.91 321.85,332.73 322.29,331.90 322.73,332.24 323.17,331.27 323.62,332.14 324.06,332.12 324.50,332.28 324.95,332.34 325.39,332.48 325.83,331.25 326.27,331.69 326.72,332.58 327.16,332.14 327.60,332.30 328.05,331.97 328.49,331.56 328.93,331.32 329.38,332.23 329.44,331.65 329.58,332.36 329.73,330.64 329.82,330.95 329.88,331.52 330.02,332.06 330.17,331.29 330.26,330.94 330.31,332.00 330.46,331.67 330.61,332.43 330.70,332.56 330.75,332.47 330.90,329.73 331.05,332.60 331.15,330.83 331.19,332.15 331.34,332.46 331.48,331.77 331.59,331.88 331.63,331.21 331.78,332.21 331.92,332.19 332.03,332.48 332.07,330.85 332.21,332.35 332.36,332.49 332.48,331.43 332.51,332.25 332.65,332.05 332.80,332.49 332.92,332.44 332.95,331.34 333.09,332.23 333.24,331.94 333.36,331.67 333.38,332.16 333.53,332.36 333.68,331.90 333.80,332.44 333.82,332.41 333.97,332.36 334.11,331.67 334.25,331.97 334.26,332.05 334.41,331.91 334.55,331.92 334.69,331.29 334.70,331.14 334.85,330.56 334.99,330.08 335.13,329.57 335.14,328.88 335.28,328.95 335.43,329.10 335.58,330.32 335.58,329.92 335.72,330.95 335.87,331.27 336.01,331.83 336.02,331.88 336.16,331.54 336.31,331.78 336.45,332.22 336.46,331.83 336.60,332.38 336.75,332.33 336.89,332.25 336.90,332.16 337.04,332.35 337.18,332.41 337.33,332.35 337.35,330.54 337.48,331.08 337.62,331.12 337.77,331.18 337.79,332.51 337.91,330.88 338.06,331.16 338.21,331.45 338.23,331.11 338.35,331.51 338.50,332.19 338.65,331.19 338.68,331.57 338.79,330.87 338.94,329.36 339.08,331.95 339.12,330.93 339.23,332.18 339.38,332.32 339.52,331.97 339.56,331.85 339.67,331.16 339.67,331.92 339.81,331.52 339.81,332.05 339.96,330.21 339.96,331.19 340.01,331.42 340.11,330.38 340.11,332.15 340.25,332.13 340.25,332.08 340.40,332.17 340.40,332.42 340.45,330.80 340.55,332.06 340.55,332.04 340.69,331.98 340.69,332.07 340.84,331.20 340.84,331.63 340.89,331.69 340.98,332.10 340.98,332.07 341.13,330.86 341.28,331.91 341.33,330.40 341.42,330.77 341.57,331.97 341.71,331.46 341.78,329.70 341.86,331.83 342.01,331.76 342.15,331.60 342.22,330.79 342.30,331.80 342.45,331.28 342.59,331.05 342.66,330.27 342.74,331.57 342.88,331.35 343.03,331.20 343.11,331.39 343.18,330.75 343.32,329.77 343.47,330.12 343.55,330.10 343.61,330.73 343.76,330.28 343.91,329.83 343.99,329.38 344.05,329.13 344.20,328.31 344.35,327.99 344.43,326.66 344.49,327.17 344.64,326.07 344.78,323.93 344.88,322.97 344.93,321.95 345.08,320.08 345.22,317.72 345.32,316.33 345.37,315.59 345.51,314.72 345.66,315.31 345.76,317.07 345.81,317.28 345.95,320.20 346.10,322.23 346.21,323.70 346.25,324.25 346.39,325.44 346.54,326.79 346.65,327.64 346.68,327.90 346.83,328.66 346.98,329.19 347.09,329.76 347.12,329.83 347.27,329.77 347.41,330.19 347.53,330.61 347.56,330.91 347.71,330.06 347.85,330.02 347.98,330.35 348.00,330.65 348.15,330.77 348.29,330.87 348.42,331.47 348.44,330.96 348.58,330.84 348.73,331.83 348.86,331.97 348.88,331.72 349.02,331.99 349.02,330.34 349.17,331.73 349.17,331.43 349.31,331.40 349.32,331.00 349.32,331.18 349.46,331.49 349.46,331.48 349.61,332.21 349.61,331.47 349.75,332.10 349.75,331.40 349.75,331.55 349.90,331.47 349.90,332.12 350.05,331.93 350.05,332.04 350.19,332.25 350.19,331.40 350.19,331.07 350.34,331.70 350.34,331.67 350.48,331.64 350.48,330.49 350.63,332.32 350.63,332.40 350.63,331.39 350.78,330.72 350.78,331.64 350.92,331.71 350.92,331.77 351.07,331.37 351.07,332.15 351.08,332.07 351.22,332.03 351.22,331.81 351.36,332.00 351.51,331.78 351.52,330.29 351.65,332.09 351.80,331.38 351.95,331.66 351.96,332.50 352.09,331.60 352.24,332.13 352.38,332.24 352.41,332.17 352.53,332.22 352.68,331.35 352.82,331.37 352.85,332.03 352.97,332.42 353.12,332.45 353.26,332.42 353.29,332.20 353.41,332.35 353.55,332.29 353.70,332.17 353.74,332.14 353.85,332.09 353.99,331.84 354.14,331.68 354.18,331.51 354.28,331.44 354.43,330.71 354.58,330.09 354.62,329.73 354.72,329.17 354.87,328.31 355.02,329.49 355.06,329.62 355.16,329.70 355.31,330.76 355.45,331.51 355.51,331.42 355.60,331.90 355.75,331.52 355.89,331.51 355.95,331.79 356.04,332.20 356.18,332.22 356.33,332.35 356.39,332.42 356.48,332.23 356.62,332.48 356.77,332.50 356.84,331.97 356.92,330.95 357.06,332.42 357.21,332.06 357.28,331.31 357.35,332.06 357.50,331.79 357.65,332.21 357.72,332.28 357.79,332.22 357.94,332.45 358.08,332.37 358.16,331.51 358.23,332.28 358.38,332.31 358.52,331.41 358.61,332.12 358.67,332.55 358.82,332.09 358.96,330.90 359.05,331.77 359.11,329.99 359.25,332.02 359.40,332.00 359.49,332.35 359.55,332.03 359.69,331.84 359.84,331.56 359.94,331.04 359.98,332.39 360.13,332.67 360.28,331.30 360.38,331.38 360.42,332.32 360.57,331.97 360.82,332.03 361.26,332.34 361.71,332.05 362.15,332.40 362.59,331.70 363.04,332.69 363.48,331.58 363.92,331.85 364.37,332.57 364.81,332.39 365.25,332.14 365.69,332.21 366.14,332.70 366.58,332.43 367.02,332.16 367.47,332.23 367.91,330.90 368.35,331.18 368.79,331.54 369.24,331.81 369.68,331.77 370.12,332.26 370.57,332.66 371.01,332.63 371.45,331.31 371.89,332.19 372.34,331.76 372.78,331.77 373.22,330.88 373.67,331.39 374.11,332.16 374.55,332.61 374.99,330.81 375.44,331.72 375.88,332.29 376.32,330.61 376.77,332.06 377.21,332.00 377.65,330.90 378.10,331.91 378.54,331.67 378.98,331.73 379.42,332.08 379.87,331.16 380.31,332.51 380.75,332.69 381.20,332.31 381.64,332.33 382.08,331.85 382.52,332.57 382.97,331.55 383.41,332.28 383.85,331.87 384.30,332.07 384.74,331.43 385.18,331.51 385.62,331.81 386.07,332.21 386.51,331.80 386.95,332.08 387.40,331.35 387.84,332.27 388.28,332.18 388.73,332.46 389.17,331.22 389.61,331.50 390.05,331.30 390.50,332.38 390.94,331.88 391.38,332.58 391.83,332.11 392.27,332.45 392.71,330.11 393.15,332.26 393.60,332.59 394.04,332.43 394.48,331.62 394.93,332.57 395.37,332.52 395.81,332.18 396.25,331.98 396.70,332.21 397.14,332.63 397.58,331.48 398.03,332.56 398.47,332.53 398.91,331.54 399.35,332.29 399.80,331.62 400.24,332.32 400.68,332.39 401.13,332.63 401.57,332.51 402.01,332.27 402.46,331.52 402.90,332.59 403.34,331.41 403.78,332.66 404.23,331.95 404.67,332.08 405.11,331.34 405.56,332.31 406.00,332.11 406.44,332.61 406.88,331.67 407.33,332.20 407.77,331.56 408.21,332.31 408.66,331.61 409.10,332.31 409.54,332.18 409.98,332.17 410.43,332.28 410.87,332.28 411.31,331.62 411.76,332.75 412.20,331.62 412.64,332.67 413.09,332.21 413.53,332.34 413.97,332.07 414.41,331.76 414.86,331.54 415.30,331.77 415.74,332.48 416.19,332.05 416.63,330.99 417.07,332.02 417.51,331.83 417.96,331.97 418.40,332.57 418.84,331.94 419.29,331.78 419.73,332.08 420.17,331.16 420.61,332.18 421.06,332.41 421.50,332.11 421.94,332.66 422.39,330.66 422.83,332.59 423.27,332.72 423.71,332.27 424.16,332.70 424.60,332.17 425.04,332.70 425.49,332.16 425.93,332.27 426.37,331.55 426.82,332.12 427.26,332.56 427.70,332.35 428.14,332.02 428.59,332.48 429.03,332.74 429.47,331.43 429.92,332.51 430.36,332.76 430.80,331.54 431.24,331.91 431.69,332.63 432.13,331.74 432.57,331.32 433.02,332.27 433.46,330.27 433.90,332.65 434.34,332.12 434.79,331.39 435.23,332.76 435.67,331.40 436.12,332.38 436.56,331.55 437.00,332.55 437.45,332.01 437.89,332.68 438.33,331.94 438.77,332.23 439.22,331.99 439.66,332.60 440.10,332.12 440.55,331.29 440.99,331.96 441.43,332.56 441.87,332.76 442.32,332.35 442.76,332.21 443.20,331.95 443.65,330.48 444.09,332.11 444.53,332.25 444.97,332.57 445.42,332.73 445.86,331.08 446.30,331.56 446.75,332.33 447.19,332.01 447.63,332.03 448.07,331.85 448.52,332.46 448.96,332.27 449.40,330.98 449.85,332.69 450.29,332.44 450.73,330.87 451.18,332.06 451.62,331.79 452.06,331.64 452.50,331.89 452.95,332.42 453.39,331.89 453.83,332.25 454.28,331.83 454.72,332.25 455.16,332.48 455.60,332.22 456.05,332.55 456.49,330.11 456.93,331.91 457.38,332.72 457.82,330.63 458.26,331.95 458.70,332.55 459.15,332.12 459.59,332.53 460.03,331.87 460.48,332.44 460.92,332.41 461.36,332.70 461.81,331.42 462.25,332.32 462.69,331.22 463.13,332.30 463.58,332.68 464.02,332.01 464.46,332.52 464.91,332.50 465.35,332.50 465.79,332.61 466.23,332.13 466.68,331.38 467.12,332.47 467.56,332.22 468.01,332.17 468.45,330.46 468.89,332.37 469.33,331.25 469.78,332.40 470.22,331.23 470.66,332.01 471.11,332.42 471.55,331.02 471.99,332.51 472.43,330.70 472.88,332.15 473.32,331.55 473.76,331.81 474.21,332.47 474.65,331.39 475.09,331.36 475.54,332.51 475.98,331.91 476.42,332.74 476.86,332.77 477.31,331.41 477.75,332.21 478.19,332.37 478.64,330.78 479.08,332.41 479.52,332.16 479.96,332.27 480.41,332.40 480.85,332.32 481.29,332.46 481.74,332.27 482.18,332.19 482.62,332.43 483.06,332.52 483.51,331.87 483.95,332.60 484.39,332.62 484.84,331.66 485.28,332.00 485.72,331.59 486.17,331.13 486.61,332.57 487.05,332.73 487.49,332.16 487.94,330.84 488.38,331.83 488.82,332.32 489.27,330.09 489.71,331.72 490.15,330.71 490.59,331.42 491.04,332.22 491.48,332.60 491.92,331.44 492.37,332.58 492.81,331.80 493.25,331.61 493.69,332.28 494.14,331.88 494.58,332.30 495.02,332.27 495.47,331.80 495.91,332.69 496.35,332.60 496.79,331.73 497.24,331.53 497.68,331.03 498.12,332.53 498.57,331.33 499.01,332.26 499.45,332.00 499.90,332.10 500.34,332.38 500.78,331.64 501.22,331.59 501.67,331.50 502.11,332.11 502.55,330.56 503.00,332.70 503.44,332.46 503.88,332.05 504.32,332.27 504.77,330.65 505.21,331.07 505.65,331.23 506.10,331.75 506.54,332.44 506.98,331.67 507.42,330.64 507.87,332.40 508.31,331.95 508.75,332.30 509.20,332.67 509.64,331.41 510.08,332.17 510.53,331.88 510.97,331.88 511.41,331.30 511.85,331.95 512.30,332.37 512.74,332.38 513.18,330.66 513.63,331.19 514.07,331.13 514.51,332.26 514.95,332.67 515.40,332.76 515.84,331.08 516.28,332.57 516.73,332.16 517.17,332.39 517.61,332.09 518.05,332.30 518.50,332.03 518.94,331.81 519.38,332.51 519.83,332.57 520.27,332.53 520.71,332.15 521.15,332.14 521.60,332.21 522.04,332.70 522.48,332.58 522.93,332.32 523.37,332.69 523.81,331.78 524.26,332.67 524.70,331.48 525.14,332.01 525.58,332.64 526.03,331.91 526.47,332.46 526.91,332.43 527.36,332.23 527.80,331.88 528.24,331.99 528.68,329.02 529.13,332.19 529.57,331.92 530.01,332.69 530.46,332.66 530.90,332.51 531.34,332.58 531.78,332.70 532.23,331.84 532.67,332.28 533.11,332.74 533.56,332.48 534.00,332.64 534.44,331.82 534.89,332.72 535.33,332.57 535.77,332.06 536.21,332.58 536.66,331.82 537.10,331.23 537.54,331.65 537.99,332.55 538.43,332.11 538.87,332.55 539.31,331.27 539.76,332.13 540.20,332.37" fill="none" stroke="#0d6fbc" stroke-width="0.9" stroke-linejoin="round"/>
<path d="M130.07 331.04L130.37 294.00L130.67 331.04M198.28 332.15L198.58 312.52L198.88 332.15M208.21 331.60L208.51 303.46L208.81 331.60M217.86 332.34L218.16 315.67L218.46 332.34M334.98 331.32L335.28 298.73L335.58 331.32M345.21 328.58L345.51 253.02L345.81 328.58M354.57 331.39L354.87 299.91L355.17 331.39" fill="none" stroke="#0d6fbc" stroke-width="0.95" stroke-linejoin="miter"/>
<path d="M52.8 23.3V103.3" stroke="#151515" stroke-width="1.1" fill="none"/>
<path d="M53.0 23.8h5" stroke="#151515" stroke-width="1.1" fill="none"/>
<text x="50.3" y="29.1" text-anchor="end" class="t" style="font-size:11.6px">2</text>
<path d="M53.0 63.4h5" stroke="#151515" stroke-width="1.1" fill="none"/>
<text x="50.3" y="68.7" text-anchor="end" class="t" style="font-size:11.6px">1</text>
<text x="50.3" y="108.3" text-anchor="end" class="t" style="font-size:11.6px">0</text>
<text x="53.6" y="20.8" class="t" style="font-size:14px">×</text><text x="66.8" y="19.4" class="t" style="letter-spacing:0.4px">10</text><text x="79.2" y="13.8" class="t" style="font-size:9.6px">−3</text>
<text x="27.0" y="18.4" class="s k" font-size="14">(a)</text>
<path d="M52.8 137.9V217.9" stroke="#151515" stroke-width="1.1" fill="none"/>
<path d="M53.0 138.4h5" stroke="#151515" stroke-width="1.1" fill="none"/>
<text x="50.3" y="143.7" text-anchor="end" class="t" style="font-size:11.6px">2</text>
<path d="M53.0 178.0h5" stroke="#151515" stroke-width="1.1" fill="none"/>
<text x="50.3" y="183.3" text-anchor="end" class="t" style="font-size:11.6px">1</text>
<text x="50.3" y="222.9" text-anchor="end" class="t" style="font-size:11.6px">0</text>
<text x="53.6" y="135.4" class="t" style="font-size:14px">×</text><text x="66.8" y="134.0" class="t" style="letter-spacing:0.4px">10</text><text x="79.2" y="128.4" class="t" style="font-size:9.6px">−3</text>
<text x="27.0" y="136.6" class="s k" font-size="14">(b)</text>
<path d="M52.8 254.1V333.7" stroke="#151515" stroke-width="1.1" fill="none"/>
<path d="M53.0 254.6h5" stroke="#151515" stroke-width="1.1" fill="none"/>
<text x="50.3" y="259.9" text-anchor="end" class="t" style="font-size:11.6px">2</text>
<path d="M53.0 294.0h5" stroke="#151515" stroke-width="1.1" fill="none"/>
<text x="50.3" y="299.3" text-anchor="end" class="t" style="font-size:11.6px">1</text>
<text x="50.3" y="338.7" text-anchor="end" class="t" style="font-size:11.6px">0</text>
<text x="53.6" y="251.6" class="t" style="font-size:14px">×</text><text x="66.8" y="250.2" class="t" style="letter-spacing:0.4px">10</text><text x="79.2" y="244.6" class="t" style="font-size:9.6px">−3</text>
<text x="27.0" y="249.2" class="s k" font-size="14">(c)</text>
<text x="56.5" y="350.9" text-anchor="middle" class="t" style="font-size:11.4px;letter-spacing:0.85px;stroke-width:0.1px">0</text>
<text x="105.6" y="350.9" text-anchor="middle" class="t" style="font-size:11.4px;letter-spacing:0.85px;stroke-width:0.1px">0.5</text>
<text x="153.9" y="350.9" text-anchor="middle" class="t" style="font-size:11.4px;letter-spacing:0.85px;stroke-width:0.1px">1</text>
<text x="203.1" y="350.9" text-anchor="middle" class="t" style="font-size:11.4px;letter-spacing:0.85px;stroke-width:0.1px">1.5</text>
<text x="251.4" y="350.9" text-anchor="middle" class="t" style="font-size:11.4px;letter-spacing:0.85px;stroke-width:0.1px">2</text>
<text x="300.5" y="350.9" text-anchor="middle" class="t" style="font-size:11.4px;letter-spacing:0.85px;stroke-width:0.1px">2.5</text>
<text x="348.8" y="350.9" text-anchor="middle" class="t" style="font-size:11.4px;letter-spacing:0.85px;stroke-width:0.1px">3</text>
<text x="397.9" y="350.9" text-anchor="middle" class="t" style="font-size:11.4px;letter-spacing:0.85px;stroke-width:0.1px">3.5</text>
<text x="446.3" y="350.9" text-anchor="middle" class="t" style="font-size:11.4px;letter-spacing:0.85px;stroke-width:0.1px">4</text>
<text x="495.4" y="350.9" text-anchor="middle" class="t" style="font-size:11.4px;letter-spacing:0.85px;stroke-width:0.1px">4.5</text>
<text x="543.7" y="350.9" text-anchor="middle" class="t" style="font-size:11.4px;letter-spacing:0.85px;stroke-width:0.1px">5</text>
<text x="509.6" y="372.4" class="t" style="font-size:15px">×</text><text x="523.4" y="370.6" class="t" style="letter-spacing:0.4px">10</text><text x="534.9" y="364.8" class="t" style="font-size:9.6px">7</text>
<text x="292.3" y="371.2" text-anchor="middle" class="s" font-size="15" style="letter-spacing:0.5px">Frequency (Hz)</text>
<text transform="translate(17.4,170) rotate(-90)" text-anchor="middle" class="s" font-size="15" style="letter-spacing:0.68px">Amplitude (mv)</text>
<rect x="138.60" y="23.1" width="3.4" height="7.7" fill="#ff1a1a"/>
<rect x="138.60" y="39.6" width="3.4" height="9.3" fill="#ff1a1a"/>
<rect x="138.60" y="57.6" width="3.4" height="9.2" fill="#ff1a1a"/>
<rect x="138.60" y="75.8" width="3.4" height="9.4" fill="#ff1a1a"/>
<rect x="138.60" y="94.0" width="3.4" height="9.2" fill="#ff1a1a"/>
<rect x="236.30" y="23.1" width="3.4" height="7.7" fill="#ff1a1a"/>
<rect x="236.30" y="39.6" width="3.4" height="9.3" fill="#ff1a1a"/>
<rect x="236.30" y="57.6" width="3.4" height="9.2" fill="#ff1a1a"/>
<rect x="236.30" y="75.8" width="3.4" height="9.4" fill="#ff1a1a"/>
<rect x="236.30" y="94.0" width="3.4" height="9.2" fill="#ff1a1a"/>
<rect x="382.70" y="23.1" width="3.4" height="7.7" fill="#ff1a1a"/>
<rect x="382.70" y="39.6" width="3.4" height="9.3" fill="#ff1a1a"/>
<rect x="382.70" y="57.6" width="3.4" height="9.2" fill="#ff1a1a"/>
<rect x="382.70" y="75.8" width="3.4" height="9.4" fill="#ff1a1a"/>
<rect x="382.70" y="94.0" width="3.4" height="9.2" fill="#ff1a1a"/>
<path d="M52.3 56.7H139.2" stroke="#ff1a1a" stroke-width="1.6" stroke-dasharray="9.3 5.2" stroke-dashoffset="0.6" fill="none"/>
<path d="M58.1 51.0L52.3 56.7L58.1 62.4" stroke="#ff1a1a" stroke-width="1.6" fill="none"/>
<path d="M133.4 51.0L139.2 56.7L133.4 62.4" stroke="#ff1a1a" stroke-width="1.6" fill="none"/>
<path d="M142.0 44.5H239.5" stroke="#ff1a1a" stroke-width="1.6" stroke-dasharray="9.4 4.95" stroke-dashoffset="0.65" fill="none"/>
<path d="M147.8 38.8L142.0 44.5L147.8 50.2" stroke="#ff1a1a" stroke-width="1.6" fill="none"/>
<path d="M233.7 38.8L239.5 44.5L233.7 50.2" stroke="#ff1a1a" stroke-width="1.6" fill="none"/>
<path d="M239.5 28.6H383.0" stroke="#ff1a1a" stroke-width="1.6" stroke-dasharray="9.4 5.0" stroke-dashoffset="1.0" fill="none"/>
<path d="M245.3 22.9L239.5 28.6L245.3 34.3" stroke="#ff1a1a" stroke-width="1.6" fill="none"/>
<path d="M377.2 22.9L383.0 28.6L377.2 34.3" stroke="#ff1a1a" stroke-width="1.6" fill="none"/>
<text x="93.5" y="47.0" text-anchor="middle" class="s" font-size="12.5" style="fill:#ff352b">1</text>
<text x="190.4" y="37.2" text-anchor="middle" class="s" font-size="12.5" style="fill:#ff352b">2</text>
<text x="319.0" y="15.0" text-anchor="middle" class="s" font-size="12.5" style="fill:#ff352b">3</text>
<path d="M169.6 138.5V217.9" stroke="#8a0a8e" stroke-width="3.1" stroke-dasharray="2.3 2.2" fill="none"/>
<path d="M285.6 138.5V217.9" stroke="#8a0a8e" stroke-width="3.1" stroke-dasharray="2.3 2.2" fill="none"/>
<path d="M352.0 138.5V217.9" stroke="#8a0a8e" stroke-width="3.1" stroke-dasharray="2.3 2.2" fill="none"/>
<path d="M52.6 170.5H168.3" stroke="#6f26b6" stroke-width="1.4" stroke-dasharray="2.0 1.5" stroke-dashoffset="0" fill="none"/>
<path d="M58.5 164.9L52.6 170.5L58.5 176.1" stroke="#6f26b6" stroke-width="1.4" fill="none"/>
<path d="M162.4 164.9L168.3 170.5L162.4 176.1" stroke="#6f26b6" stroke-width="1.4" fill="none"/>
<path d="M171.0 156.5H284.3" stroke="#6f26b6" stroke-width="1.4" stroke-dasharray="2.0 1.5" stroke-dashoffset="0" fill="none"/>
<path d="M176.9 150.9L171.0 156.5L176.9 162.1" stroke="#6f26b6" stroke-width="1.4" fill="none"/>
<path d="M278.4 150.9L284.3 156.5L278.4 162.1" stroke="#6f26b6" stroke-width="1.4" fill="none"/>
<path d="M287.1 147.3H350.6" stroke="#6f26b6" stroke-width="1.4" stroke-dasharray="2.0 1.5" stroke-dashoffset="0" fill="none"/>
<path d="M293.0 141.7L287.1 147.3L293.0 152.9" stroke="#6f26b6" stroke-width="1.4" fill="none"/>
<path d="M344.7 141.7L350.6 147.3L344.7 152.9" stroke="#6f26b6" stroke-width="1.4" fill="none"/>
<text x="113.0" y="164.7" text-anchor="middle" class="s" font-size="12.5" style="fill:#7e40c0">1</text>
<text x="230.0" y="146.5" text-anchor="middle" class="s" font-size="12.5" style="fill:#7e40c0">2</text>
<text x="325.4" y="136.8" text-anchor="middle" class="s" font-size="12.5" style="fill:#7e40c0">3</text>
<rect x="125.05" y="252.6" width="4.5" height="10.2" fill="#12b050"/>
<rect x="125.05" y="270.6" width="4.5" height="10.0" fill="#12b050"/>
<rect x="125.05" y="288.7" width="4.5" height="9.8" fill="#12b050"/>
<rect x="125.05" y="307.0" width="4.5" height="9.8" fill="#12b050"/>
<rect x="125.05" y="325.3" width="4.5" height="8.3" fill="#12b050"/>
<rect x="129.85" y="252.6" width="4.5" height="10.2" fill="#12b050"/>
<rect x="129.85" y="270.6" width="4.5" height="10.0" fill="#12b050"/>
<rect x="129.85" y="288.7" width="4.5" height="9.8" fill="#12b050"/>
<rect x="129.85" y="307.0" width="4.5" height="9.8" fill="#12b050"/>
<rect x="129.85" y="325.3" width="4.5" height="8.3" fill="#12b050"/>
<rect x="194.00" y="252.6" width="4.0" height="10.2" fill="#12b050"/>
<rect x="194.00" y="270.6" width="4.0" height="10.0" fill="#12b050"/>
<rect x="194.00" y="288.7" width="4.0" height="9.8" fill="#12b050"/>
<rect x="194.00" y="307.0" width="4.0" height="9.8" fill="#12b050"/>
<rect x="194.00" y="325.3" width="4.0" height="8.3" fill="#12b050"/>
<rect x="218.40" y="252.6" width="4.0" height="10.2" fill="#12b050"/>
<rect x="218.40" y="270.6" width="4.0" height="10.0" fill="#12b050"/>
<rect x="218.40" y="288.7" width="4.0" height="9.8" fill="#12b050"/>
<rect x="218.40" y="307.0" width="4.0" height="9.8" fill="#12b050"/>
<rect x="218.40" y="325.3" width="4.0" height="8.3" fill="#12b050"/>
<rect x="330.20" y="252.6" width="4.0" height="10.2" fill="#12b050"/>
<rect x="330.20" y="270.6" width="4.0" height="10.0" fill="#12b050"/>
<rect x="330.20" y="288.7" width="4.0" height="9.8" fill="#12b050"/>
<rect x="330.20" y="307.0" width="4.0" height="9.8" fill="#12b050"/>
<rect x="330.20" y="325.3" width="4.0" height="8.3" fill="#12b050"/>
<rect x="357.00" y="252.6" width="4.0" height="10.2" fill="#12b050"/>
<rect x="357.00" y="270.6" width="4.0" height="10.0" fill="#12b050"/>
<rect x="357.00" y="288.7" width="4.0" height="9.8" fill="#12b050"/>
<rect x="357.00" y="307.0" width="4.0" height="9.8" fill="#12b050"/>
<rect x="357.00" y="325.3" width="4.0" height="8.3" fill="#12b050"/>
<rect x="194.0" y="252.6" width="12.6" height="1.8" fill="#12b050"/>
<rect x="211.2" y="252.6" width="11.2" height="1.8" fill="#12b050"/>
<rect x="330.2" y="252.6" width="9.6" height="1.8" fill="#12b050"/>
<rect x="344.6" y="252.6" width="8.9" height="1.8" fill="#12b050"/>
<rect x="357" y="252.6" width="4.0" height="1.8" fill="#12b050"/>
<text x="134.8" y="250.8" text-anchor="middle" class="s" font-size="12.5" style="fill:#28b763">1</text>
<text x="208.0" y="249.0" text-anchor="middle" class="s" font-size="12.5" style="fill:#28b763">2</text>
<text x="344.7" y="244.2" text-anchor="middle" class="s" font-size="12.5" style="fill:#28b763">3</text>
</svg>
</body></html>
